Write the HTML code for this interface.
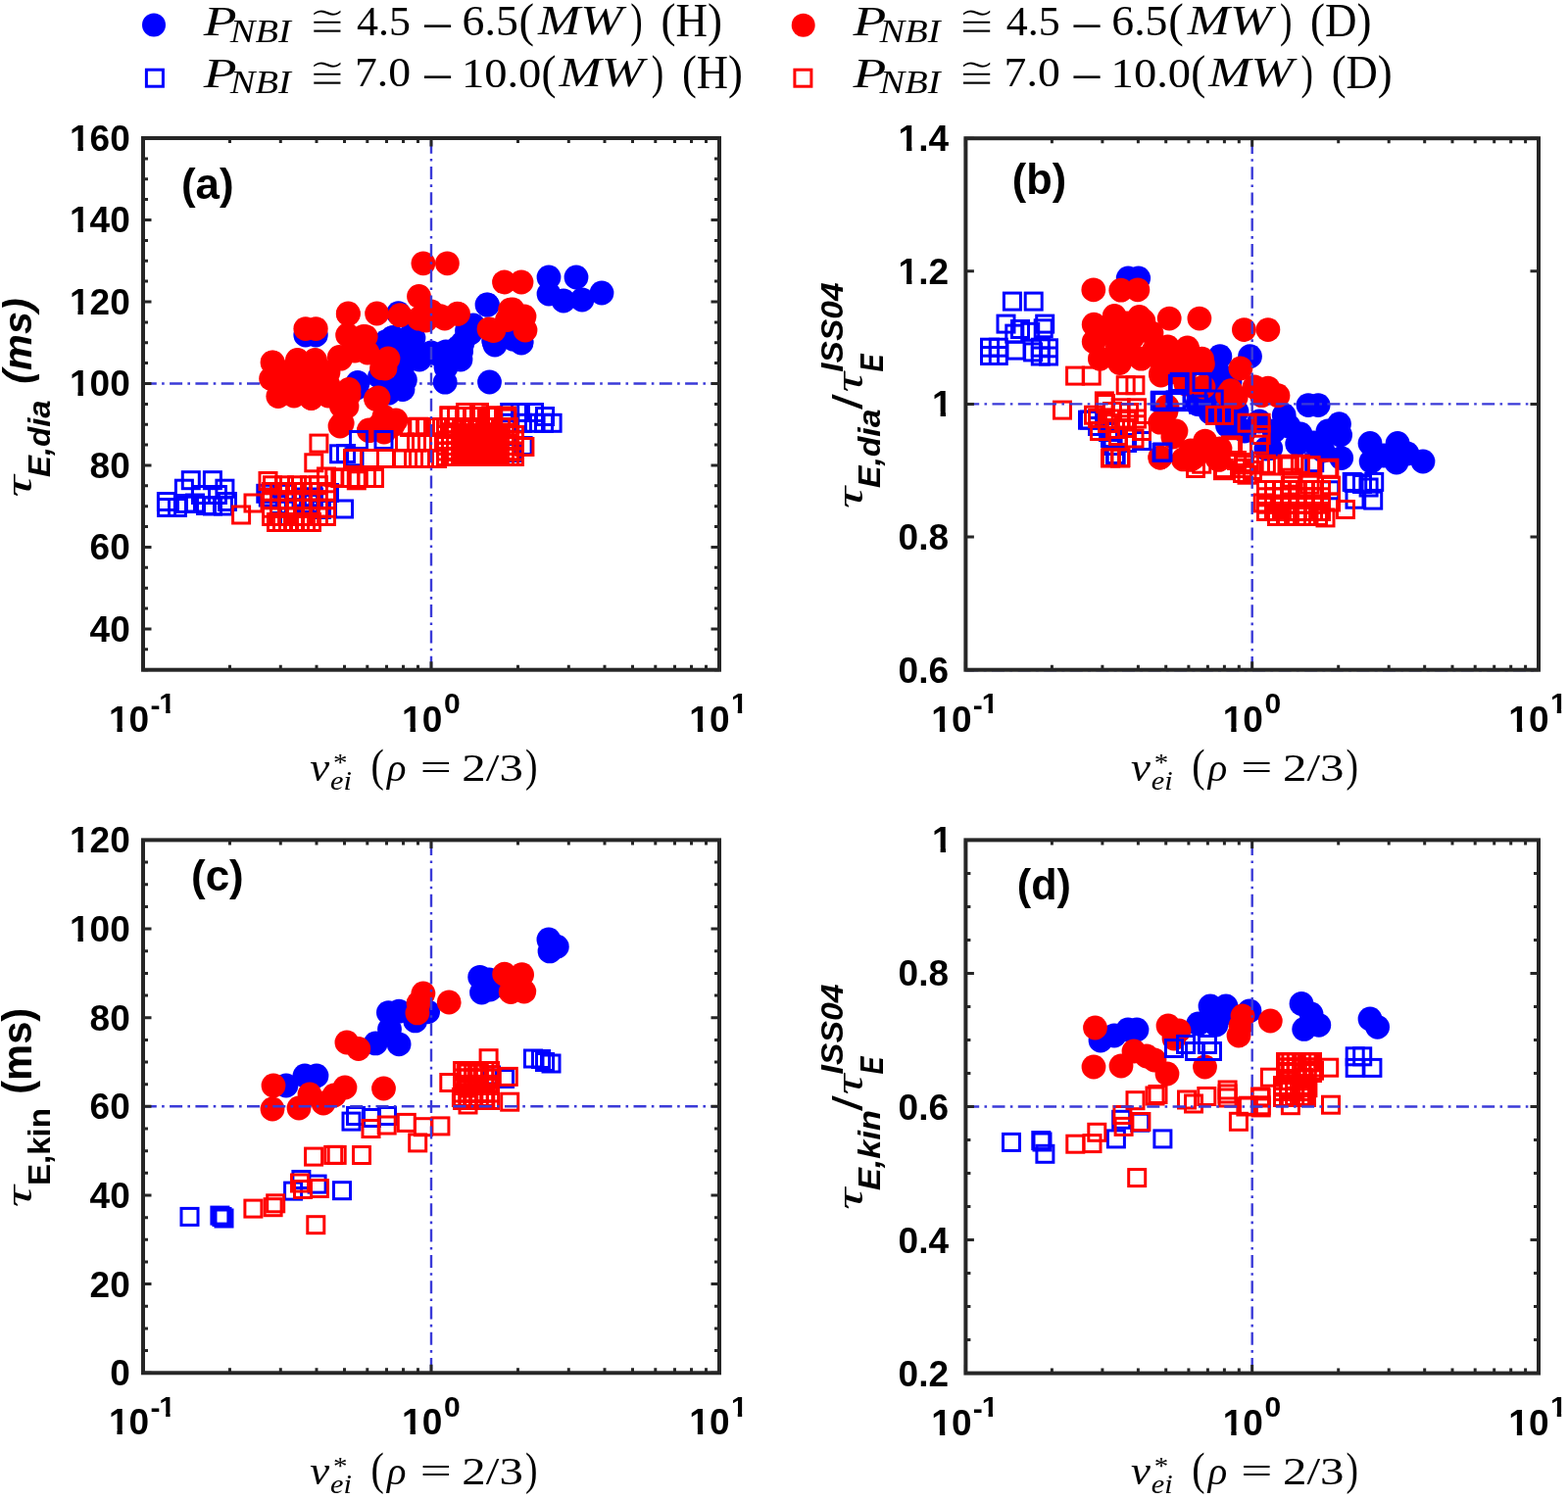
<!DOCTYPE html><html><head><meta charset="utf-8"><style>html,body{margin:0;padding:0;background:#fff;overflow:hidden}svg{display:block}</style></head><body><svg xmlns="http://www.w3.org/2000/svg" width="1600" height="1530" viewBox="0 0 1600 1530" style="font-kerning:none">
<rect width="1600" height="1530" fill="#fff"/>
<line x1="146.0" y1="391.5" x2="734.0" y2="391.5" stroke="#3a3ad8" stroke-width="2.4" stroke-dasharray="13 5.3 2.6 5.4" stroke-dashoffset="-0.8"/>
<g fill="#0000ff"><circle cx="311.8" cy="342.0" r="12.4"/><circle cx="322.3" cy="342.0" r="12.4"/><circle cx="364.0" cy="396.0" r="12.4"/><circle cx="396.5" cy="401.2" r="12.4"/><circle cx="393.9" cy="348.7" r="12.4"/><circle cx="406.5" cy="319.7" r="12.4"/><circle cx="441.5" cy="320.0" r="12.4"/><circle cx="401.2" cy="344.5" r="12.4"/><circle cx="418.7" cy="342.7" r="12.4"/><circle cx="476.5" cy="337.5" r="12.4"/><circle cx="454.2" cy="390.2" r="12.4"/><circle cx="499.5" cy="390.0" r="12.4"/><circle cx="470.0" cy="367.0" r="12.4"/><circle cx="467.0" cy="355.0" r="12.4"/><circle cx="448.0" cy="362.0" r="12.4"/><circle cx="428.0" cy="367.0" r="12.4"/><circle cx="410.0" cy="397.0" r="12.4"/><circle cx="400.0" cy="345.0" r="12.4"/><circle cx="422.0" cy="345.0" r="12.4"/><circle cx="504.0" cy="349.0" r="12.4"/><circle cx="532.0" cy="349.0" r="12.4"/><circle cx="480.0" cy="340.0" r="12.4"/><circle cx="411.0" cy="397.5" r="12.4"/><circle cx="365.0" cy="390.5" r="12.4"/><circle cx="387.5" cy="384.4" r="12.4"/><circle cx="398.0" cy="397.0" r="12.4"/><circle cx="413.4" cy="387.8" r="12.4"/><circle cx="455.0" cy="375.0" r="12.4"/><circle cx="412.0" cy="360.0" r="12.4"/><circle cx="418.0" cy="352.0" r="12.4"/><circle cx="412.0" cy="372.0" r="12.4"/><circle cx="560.0" cy="283.0" r="12.4"/><circle cx="588.0" cy="283.0" r="12.4"/><circle cx="560.0" cy="300.0" r="12.4"/><circle cx="575.0" cy="307.0" r="12.4"/><circle cx="594.0" cy="306.0" r="12.4"/><circle cx="614.0" cy="299.0" r="12.4"/><circle cx="497.0" cy="311.0" r="12.4"/><circle cx="483.0" cy="332.0" r="12.4"/><circle cx="505.0" cy="352.0" r="12.4"/><circle cx="532.0" cy="350.0" r="12.4"/><circle cx="472.0" cy="350.0" r="12.4"/><circle cx="497.5" cy="311.2" r="12.4"/><circle cx="480.0" cy="333.8" r="12.4"/><circle cx="503.8" cy="347.5" r="12.4"/><circle cx="523.8" cy="346.2" r="12.4"/><circle cx="455.0" cy="358.8" r="12.4"/><circle cx="470.6" cy="358.8" r="12.4"/><circle cx="440.0" cy="360.0" r="12.4"/></g>
<g fill="#ff0000"><circle cx="431.9" cy="268.8" r="12.4"/><circle cx="456.4" cy="268.8" r="12.4"/><circle cx="427.5" cy="302.5" r="12.4"/><circle cx="355.3" cy="320.0" r="12.4"/><circle cx="384.6" cy="320.0" r="12.4"/><circle cx="408.2" cy="321.7" r="12.4"/><circle cx="427.5" cy="325.2" r="12.4"/><circle cx="449.4" cy="322.6" r="12.4"/><circle cx="434.5" cy="327.0" r="12.4"/><circle cx="466.7" cy="320.2" r="12.4"/><circle cx="373.2" cy="343.6" r="12.4"/><circle cx="354.6" cy="342.0" r="12.4"/><circle cx="311.8" cy="335.6" r="12.4"/><circle cx="322.3" cy="335.6" r="12.4"/><circle cx="355.3" cy="320.6" r="12.4"/><circle cx="371.0" cy="343.5" r="12.4"/><circle cx="278.0" cy="369.8" r="12.4"/><circle cx="303.5" cy="367.5" r="12.4"/><circle cx="321.5" cy="367.5" r="12.4"/><circle cx="346.3" cy="364.5" r="12.4"/><circle cx="278.4" cy="370.2" r="12.4"/><circle cx="276.6" cy="386.4" r="12.4"/><circle cx="283.8" cy="404.6" r="12.4"/><circle cx="317.7" cy="406.5" r="12.4"/><circle cx="303.7" cy="368.2" r="12.4"/><circle cx="321.0" cy="369.0" r="12.4"/><circle cx="347.5" cy="366.2" r="12.4"/><circle cx="348.4" cy="414.4" r="12.4"/><circle cx="349.2" cy="431.9" r="12.4"/><circle cx="356.0" cy="403.0" r="12.4"/><circle cx="383.8" cy="407.4" r="12.4"/><circle cx="389.5" cy="375.7" r="12.4"/><circle cx="360.6" cy="348.7" r="12.4"/><circle cx="386.9" cy="434.5" r="12.4"/><circle cx="376.4" cy="438.9" r="12.4"/><circle cx="290.0" cy="380.0" r="12.4"/><circle cx="305.0" cy="380.0" r="12.4"/><circle cx="320.0" cy="380.0" r="12.4"/><circle cx="335.0" cy="380.0" r="12.4"/><circle cx="290.0" cy="393.0" r="12.4"/><circle cx="305.0" cy="393.0" r="12.4"/><circle cx="320.0" cy="393.0" r="12.4"/><circle cx="335.0" cy="393.0" r="12.4"/><circle cx="300.0" cy="404.0" r="12.4"/><circle cx="335.0" cy="404.0" r="12.4"/><circle cx="375.0" cy="360.0" r="12.4"/><circle cx="362.0" cy="358.0" r="12.4"/><circle cx="396.0" cy="366.0" r="12.4"/><circle cx="393.0" cy="376.0" r="12.4"/><circle cx="386.0" cy="406.0" r="12.4"/><circle cx="383.6" cy="407.1" r="12.4"/><circle cx="347.0" cy="435.0" r="12.4"/><circle cx="354.0" cy="415.0" r="12.4"/><circle cx="404.0" cy="429.0" r="12.4"/><circle cx="376.7" cy="439.7" r="12.4"/><circle cx="391.9" cy="425.5" r="12.4"/><circle cx="391.9" cy="441.0" r="12.4"/><circle cx="317.5" cy="406.2" r="12.4"/><circle cx="356.0" cy="397.5" r="12.4"/><circle cx="401.0" cy="433.8" r="12.4"/><circle cx="514.5" cy="288.0" r="12.4"/><circle cx="532.0" cy="288.0" r="12.4"/><circle cx="523.0" cy="316.0" r="12.4"/><circle cx="535.0" cy="323.0" r="12.4"/><circle cx="503.0" cy="337.0" r="12.4"/><circle cx="536.0" cy="337.0" r="12.4"/><circle cx="519.0" cy="325.0" r="12.4"/><circle cx="517.5" cy="326.6" r="12.4"/><circle cx="499.0" cy="335.8" r="12.4"/><circle cx="467.5" cy="320.3" r="12.4"/><circle cx="503.8" cy="337.5" r="12.4"/><circle cx="520.6" cy="316.2" r="12.4"/><circle cx="453.8" cy="325.0" r="12.4"/><circle cx="440.0" cy="318.0" r="12.4"/></g>
<g fill="none" stroke="#0000ff" stroke-width="3.0"><rect x="186.3" y="481.7" width="17.0" height="17.0"/><rect x="208.4" y="481.7" width="17.0" height="17.0"/><rect x="179.4" y="490.2" width="17.0" height="17.0"/><rect x="220.9" y="490.2" width="17.0" height="17.0"/><rect x="161.4" y="503.5" width="17.0" height="17.0"/><rect x="172.5" y="509.5" width="17.0" height="17.0"/><rect x="161.5" y="509.5" width="17.0" height="17.0"/><rect x="181.5" y="505.5" width="17.0" height="17.0"/><rect x="190.5" y="505.0" width="17.0" height="17.0"/><rect x="201.5" y="507.5" width="17.0" height="17.0"/><rect x="208.5" y="508.0" width="17.0" height="17.0"/><rect x="219.5" y="508.0" width="17.0" height="17.0"/><rect x="223.5" y="503.5" width="17.0" height="17.0"/><rect x="196.5" y="496.5" width="17.0" height="17.0"/><rect x="213.5" y="496.5" width="17.0" height="17.0"/><rect x="262.8" y="495.3" width="17.0" height="17.0"/><rect x="265.3" y="499.0" width="17.0" height="17.0"/><rect x="282.5" y="495.3" width="17.0" height="17.0"/><rect x="299.0" y="499.0" width="17.0" height="17.0"/><rect x="311.5" y="499.0" width="17.0" height="17.0"/><rect x="327.5" y="494.5" width="17.0" height="17.0"/><rect x="342.5" y="511.0" width="17.0" height="17.0"/><rect x="276.5" y="506.5" width="17.0" height="17.0"/><rect x="291.5" y="509.5" width="17.0" height="17.0"/><rect x="306.5" y="505.5" width="17.0" height="17.0"/><rect x="319.5" y="511.5" width="17.0" height="17.0"/><rect x="286.5" y="518.5" width="17.0" height="17.0"/><rect x="337.6" y="454.8" width="17.0" height="17.0"/><rect x="353.0" y="457.8" width="17.0" height="17.0"/><rect x="344.5" y="454.5" width="17.0" height="17.0"/><rect x="357.5" y="440.5" width="17.0" height="17.0"/><rect x="383.0" y="440.5" width="17.0" height="17.0"/><rect x="511.7" y="412.5" width="17.0" height="17.0"/><rect x="522.5" y="412.5" width="17.0" height="17.0"/><rect x="536.5" y="412.5" width="17.0" height="17.0"/><rect x="511.7" y="423.3" width="17.0" height="17.0"/><rect x="524.5" y="423.3" width="17.0" height="17.0"/><rect x="536.5" y="423.3" width="17.0" height="17.0"/><rect x="546.5" y="423.3" width="17.0" height="17.0"/><rect x="555.1" y="423.3" width="17.0" height="17.0"/><rect x="547.5" y="416.5" width="17.0" height="17.0"/><rect x="461.5" y="453.5" width="17.0" height="17.0"/><rect x="481.5" y="453.5" width="17.0" height="17.0"/><rect x="501.5" y="453.5" width="17.0" height="17.0"/><rect x="513.5" y="453.5" width="17.0" height="17.0"/><rect x="525.1" y="446.5" width="17.0" height="17.0"/></g>
<g fill="none" stroke="#ff0000" stroke-width="3.0"><rect x="237.6" y="517.0" width="17.0" height="17.0"/><rect x="250.0" y="505.0" width="17.0" height="17.0"/><rect x="265.0" y="482.5" width="17.0" height="17.0"/><rect x="316.9" y="444.1" width="17.0" height="17.0"/><rect x="311.8" y="463.8" width="17.0" height="17.0"/><rect x="332.8" y="478.8" width="17.0" height="17.0"/><rect x="355.3" y="481.8" width="17.0" height="17.0"/><rect x="324.5" y="478.0" width="17.0" height="17.0"/><rect x="338.9" y="479.5" width="17.0" height="17.0"/><rect x="349.0" y="479.5" width="17.0" height="17.0"/><rect x="357.3" y="479.5" width="17.0" height="17.0"/><rect x="365.5" y="479.5" width="17.0" height="17.0"/><rect x="373.5" y="479.5" width="17.0" height="17.0"/><rect x="418.8" y="427.2" width="17.0" height="17.0"/><rect x="449.9" y="415.7" width="17.0" height="17.0"/><rect x="466.5" y="412.5" width="17.0" height="17.0"/><rect x="480.5" y="412.5" width="17.0" height="17.0"/><rect x="492.7" y="415.7" width="17.0" height="17.0"/><rect x="508.5" y="416.0" width="17.0" height="17.0"/><rect x="526.9" y="447.5" width="17.0" height="17.0"/><rect x="269.5" y="486.8" width="17.0" height="17.0"/><rect x="281.5" y="486.8" width="17.0" height="17.0"/><rect x="294.5" y="486.8" width="17.0" height="17.0"/><rect x="307.5" y="486.8" width="17.0" height="17.0"/><rect x="316.5" y="486.8" width="17.0" height="17.0"/><rect x="268.5" y="493.5" width="17.0" height="17.0"/><rect x="268.5" y="501.8" width="17.0" height="17.0"/><rect x="268.5" y="510.2" width="17.0" height="17.0"/><rect x="268.5" y="518.5" width="17.0" height="17.0"/><rect x="276.5" y="493.5" width="17.0" height="17.0"/><rect x="276.5" y="501.8" width="17.0" height="17.0"/><rect x="276.5" y="510.2" width="17.0" height="17.0"/><rect x="276.5" y="518.5" width="17.0" height="17.0"/><rect x="284.5" y="493.5" width="17.0" height="17.0"/><rect x="284.5" y="501.8" width="17.0" height="17.0"/><rect x="284.5" y="510.2" width="17.0" height="17.0"/><rect x="284.5" y="518.5" width="17.0" height="17.0"/><rect x="292.5" y="493.5" width="17.0" height="17.0"/><rect x="292.5" y="501.8" width="17.0" height="17.0"/><rect x="292.5" y="510.2" width="17.0" height="17.0"/><rect x="292.5" y="518.5" width="17.0" height="17.0"/><rect x="300.5" y="493.5" width="17.0" height="17.0"/><rect x="300.5" y="501.8" width="17.0" height="17.0"/><rect x="300.5" y="510.2" width="17.0" height="17.0"/><rect x="300.5" y="518.5" width="17.0" height="17.0"/><rect x="308.5" y="493.5" width="17.0" height="17.0"/><rect x="308.5" y="501.8" width="17.0" height="17.0"/><rect x="308.5" y="510.2" width="17.0" height="17.0"/><rect x="308.5" y="518.5" width="17.0" height="17.0"/><rect x="316.5" y="493.5" width="17.0" height="17.0"/><rect x="316.5" y="501.8" width="17.0" height="17.0"/><rect x="316.5" y="510.2" width="17.0" height="17.0"/><rect x="316.5" y="518.5" width="17.0" height="17.0"/><rect x="324.5" y="493.5" width="17.0" height="17.0"/><rect x="324.5" y="501.8" width="17.0" height="17.0"/><rect x="324.5" y="510.2" width="17.0" height="17.0"/><rect x="324.5" y="518.5" width="17.0" height="17.0"/><rect x="273.5" y="524.5" width="17.0" height="17.0"/><rect x="279.5" y="524.5" width="17.0" height="17.0"/><rect x="285.5" y="524.5" width="17.0" height="17.0"/><rect x="291.5" y="524.5" width="17.0" height="17.0"/><rect x="297.5" y="524.5" width="17.0" height="17.0"/><rect x="303.5" y="524.5" width="17.0" height="17.0"/><rect x="309.5" y="524.5" width="17.0" height="17.0"/><rect x="450.1" y="416.5" width="17.0" height="17.0"/><rect x="457.5" y="416.5" width="17.0" height="17.0"/><rect x="465.5" y="416.5" width="17.0" height="17.0"/><rect x="473.5" y="416.5" width="17.0" height="17.0"/><rect x="481.5" y="416.5" width="17.0" height="17.0"/><rect x="488.5" y="416.5" width="17.0" height="17.0"/><rect x="494.5" y="416.5" width="17.0" height="17.0"/><rect x="509.0" y="418.1" width="17.0" height="17.0"/><rect x="409.5" y="427.5" width="17.0" height="17.0"/><rect x="417.5" y="427.5" width="17.0" height="17.0"/><rect x="425.5" y="427.5" width="17.0" height="17.0"/><rect x="433.5" y="427.5" width="17.0" height="17.0"/><rect x="438.5" y="427.5" width="17.0" height="17.0"/><rect x="446.5" y="427.5" width="17.0" height="17.0"/><rect x="454.5" y="427.5" width="17.0" height="17.0"/><rect x="462.5" y="427.5" width="17.0" height="17.0"/><rect x="470.5" y="427.5" width="17.0" height="17.0"/><rect x="478.5" y="427.5" width="17.0" height="17.0"/><rect x="486.5" y="427.5" width="17.0" height="17.0"/><rect x="494.5" y="427.5" width="17.0" height="17.0"/><rect x="502.5" y="427.5" width="17.0" height="17.0"/><rect x="510.5" y="427.5" width="17.0" height="17.0"/><rect x="446.5" y="435.5" width="17.0" height="17.0"/><rect x="446.5" y="441.0" width="17.0" height="17.0"/><rect x="446.5" y="446.5" width="17.0" height="17.0"/><rect x="446.5" y="452.0" width="17.0" height="17.0"/><rect x="446.5" y="457.5" width="17.0" height="17.0"/><rect x="451.5" y="435.5" width="17.0" height="17.0"/><rect x="451.5" y="441.0" width="17.0" height="17.0"/><rect x="451.5" y="446.5" width="17.0" height="17.0"/><rect x="451.5" y="452.0" width="17.0" height="17.0"/><rect x="451.5" y="457.5" width="17.0" height="17.0"/><rect x="456.5" y="435.5" width="17.0" height="17.0"/><rect x="456.5" y="441.0" width="17.0" height="17.0"/><rect x="456.5" y="446.5" width="17.0" height="17.0"/><rect x="456.5" y="452.0" width="17.0" height="17.0"/><rect x="456.5" y="457.5" width="17.0" height="17.0"/><rect x="461.5" y="435.5" width="17.0" height="17.0"/><rect x="461.5" y="441.0" width="17.0" height="17.0"/><rect x="461.5" y="446.5" width="17.0" height="17.0"/><rect x="461.5" y="452.0" width="17.0" height="17.0"/><rect x="461.5" y="457.5" width="17.0" height="17.0"/><rect x="466.5" y="435.5" width="17.0" height="17.0"/><rect x="466.5" y="441.0" width="17.0" height="17.0"/><rect x="466.5" y="446.5" width="17.0" height="17.0"/><rect x="466.5" y="452.0" width="17.0" height="17.0"/><rect x="466.5" y="457.5" width="17.0" height="17.0"/><rect x="471.5" y="435.5" width="17.0" height="17.0"/><rect x="471.5" y="441.0" width="17.0" height="17.0"/><rect x="471.5" y="446.5" width="17.0" height="17.0"/><rect x="471.5" y="452.0" width="17.0" height="17.0"/><rect x="471.5" y="457.5" width="17.0" height="17.0"/><rect x="476.5" y="435.5" width="17.0" height="17.0"/><rect x="476.5" y="441.0" width="17.0" height="17.0"/><rect x="476.5" y="446.5" width="17.0" height="17.0"/><rect x="476.5" y="452.0" width="17.0" height="17.0"/><rect x="476.5" y="457.5" width="17.0" height="17.0"/><rect x="481.5" y="435.5" width="17.0" height="17.0"/><rect x="481.5" y="441.0" width="17.0" height="17.0"/><rect x="481.5" y="446.5" width="17.0" height="17.0"/><rect x="481.5" y="452.0" width="17.0" height="17.0"/><rect x="481.5" y="457.5" width="17.0" height="17.0"/><rect x="486.5" y="435.5" width="17.0" height="17.0"/><rect x="486.5" y="441.0" width="17.0" height="17.0"/><rect x="486.5" y="446.5" width="17.0" height="17.0"/><rect x="486.5" y="452.0" width="17.0" height="17.0"/><rect x="486.5" y="457.5" width="17.0" height="17.0"/><rect x="491.5" y="435.5" width="17.0" height="17.0"/><rect x="491.5" y="441.0" width="17.0" height="17.0"/><rect x="491.5" y="446.5" width="17.0" height="17.0"/><rect x="491.5" y="452.0" width="17.0" height="17.0"/><rect x="491.5" y="457.5" width="17.0" height="17.0"/><rect x="496.5" y="435.5" width="17.0" height="17.0"/><rect x="496.5" y="441.0" width="17.0" height="17.0"/><rect x="496.5" y="446.5" width="17.0" height="17.0"/><rect x="496.5" y="452.0" width="17.0" height="17.0"/><rect x="496.5" y="457.5" width="17.0" height="17.0"/><rect x="501.5" y="435.5" width="17.0" height="17.0"/><rect x="501.5" y="441.0" width="17.0" height="17.0"/><rect x="501.5" y="446.5" width="17.0" height="17.0"/><rect x="501.5" y="452.0" width="17.0" height="17.0"/><rect x="501.5" y="457.5" width="17.0" height="17.0"/><rect x="506.5" y="435.5" width="17.0" height="17.0"/><rect x="506.5" y="441.0" width="17.0" height="17.0"/><rect x="506.5" y="446.5" width="17.0" height="17.0"/><rect x="506.5" y="452.0" width="17.0" height="17.0"/><rect x="506.5" y="457.5" width="17.0" height="17.0"/><rect x="511.5" y="435.5" width="17.0" height="17.0"/><rect x="511.5" y="441.0" width="17.0" height="17.0"/><rect x="511.5" y="446.5" width="17.0" height="17.0"/><rect x="511.5" y="452.0" width="17.0" height="17.0"/><rect x="511.5" y="457.5" width="17.0" height="17.0"/><rect x="516.5" y="435.5" width="17.0" height="17.0"/><rect x="516.5" y="441.0" width="17.0" height="17.0"/><rect x="516.5" y="446.5" width="17.0" height="17.0"/><rect x="516.5" y="452.0" width="17.0" height="17.0"/><rect x="516.5" y="457.5" width="17.0" height="17.0"/><rect x="404.5" y="443.0" width="17.0" height="17.0"/><rect x="416.5" y="443.0" width="17.0" height="17.0"/><rect x="427.5" y="443.0" width="17.0" height="17.0"/><rect x="439.5" y="443.0" width="17.0" height="17.0"/><rect x="351.5" y="459.5" width="17.0" height="17.0"/><rect x="368.5" y="459.5" width="17.0" height="17.0"/><rect x="385.5" y="459.5" width="17.0" height="17.0"/><rect x="401.5" y="459.5" width="17.0" height="17.0"/><rect x="413.5" y="459.5" width="17.0" height="17.0"/><rect x="424.5" y="459.5" width="17.0" height="17.0"/><rect x="437.5" y="459.5" width="17.0" height="17.0"/></g>
<line x1="440.0" y1="141.0" x2="440.0" y2="683.7" stroke="#3a3ad8" stroke-width="2.4" stroke-dasharray="13 5.3 2.6 5.4" stroke-dashoffset="23.6"/>
<path d="M146.0 642.0h8.5M734.0 642.0h-8.5M146.0 558.5h8.5M734.0 558.5h-8.5M146.0 475.0h8.5M734.0 475.0h-8.5M146.0 391.5h8.5M734.0 391.5h-8.5M146.0 308.0h8.5M734.0 308.0h-8.5M146.0 224.5h8.5M734.0 224.5h-8.5M146.0 141.0h8.5M734.0 141.0h-8.5M146.0 683.7h5.0M734.0 683.7h-5.0M146.0 662.8h5.0M734.0 662.8h-5.0M146.0 621.1h5.0M734.0 621.1h-5.0M146.0 600.2h5.0M734.0 600.2h-5.0M146.0 579.3h5.0M734.0 579.3h-5.0M146.0 537.6h5.0M734.0 537.6h-5.0M146.0 516.7h5.0M734.0 516.7h-5.0M146.0 495.8h5.0M734.0 495.8h-5.0M146.0 454.1h5.0M734.0 454.1h-5.0M146.0 433.2h5.0M734.0 433.2h-5.0M146.0 412.4h5.0M734.0 412.4h-5.0M146.0 370.6h5.0M734.0 370.6h-5.0M146.0 349.7h5.0M734.0 349.7h-5.0M146.0 328.9h5.0M734.0 328.9h-5.0M146.0 287.1h5.0M734.0 287.1h-5.0M146.0 266.2h5.0M734.0 266.2h-5.0M146.0 245.4h5.0M734.0 245.4h-5.0M146.0 203.6h5.0M734.0 203.6h-5.0M146.0 182.7h5.0M734.0 182.7h-5.0M146.0 161.9h5.0M734.0 161.9h-5.0M146.0 683.7v-8.5M146.0 141.0v8.5M440.0 683.7v-8.5M440.0 141.0v8.5M734.0 683.7v-8.5M734.0 141.0v8.5M234.5 683.7v-5.0M234.5 141.0v5.0M286.3 683.7v-5.0M286.3 141.0v5.0M323.0 683.7v-5.0M323.0 141.0v5.0M351.5 683.7v-5.0M351.5 141.0v5.0M374.8 683.7v-5.0M374.8 141.0v5.0M394.5 683.7v-5.0M394.5 141.0v5.0M411.5 683.7v-5.0M411.5 141.0v5.0M426.5 683.7v-5.0M426.5 141.0v5.0M528.5 683.7v-5.0M528.5 141.0v5.0M580.3 683.7v-5.0M580.3 141.0v5.0M617.0 683.7v-5.0M617.0 141.0v5.0M645.5 683.7v-5.0M645.5 141.0v5.0M668.8 683.7v-5.0M668.8 141.0v5.0M688.5 683.7v-5.0M688.5 141.0v5.0M705.5 683.7v-5.0M705.5 141.0v5.0M720.5 683.7v-5.0M720.5 141.0v5.0" stroke="#262626" stroke-width="3" fill="none"/>
<rect x="146.0" y="141.0" width="588.0" height="542.7" fill="none" stroke="#262626" stroke-width="4"/>
<text x="132.72" y="654.95" text-anchor="end" style="font-family:'Liberation Sans',sans-serif;font-weight:bold;font-size:37px">40</text>
<text x="132.72" y="571.46" text-anchor="end" style="font-family:'Liberation Sans',sans-serif;font-weight:bold;font-size:37px">60</text>
<text x="132.72" y="487.97" text-anchor="end" style="font-family:'Liberation Sans',sans-serif;font-weight:bold;font-size:37px">80</text>
<text x="132.72" y="404.48" text-anchor="end" style="font-family:'Liberation Sans',sans-serif;font-weight:bold;font-size:37px">100</text>
<text x="132.72" y="320.98" text-anchor="end" style="font-family:'Liberation Sans',sans-serif;font-weight:bold;font-size:37px">120</text>
<text x="132.72" y="237.49" text-anchor="end" style="font-family:'Liberation Sans',sans-serif;font-weight:bold;font-size:37px">140</text>
<text x="132.72" y="154.00" text-anchor="end" style="font-family:'Liberation Sans',sans-serif;font-weight:bold;font-size:37px">160</text>
<text x="110.97" y="746.60" style="font-family:'Liberation Sans',sans-serif;font-weight:bold;font-size:37px">10</text>
<text x="153.44" y="729.80" style="font-family:'Liberation Sans',sans-serif;font-weight:bold;font-size:30px">-</text>
<text x="162.32" y="728.00" style="font-family:'Liberation Sans',sans-serif;font-weight:bold;font-size:30px">1</text>
<text x="410.07" y="746.60" style="font-family:'Liberation Sans',sans-serif;font-weight:bold;font-size:37px">10</text>
<text x="452.92" y="728.00" style="font-family:'Liberation Sans',sans-serif;font-weight:bold;font-size:30px">0</text>
<text x="703.37" y="746.60" style="font-family:'Liberation Sans',sans-serif;font-weight:bold;font-size:37px">10</text>
<text x="745.92" y="728.00" style="font-family:'Liberation Sans',sans-serif;font-weight:bold;font-size:30px">1</text>
<text transform="translate(316.19,797.00) scale(1.1216,1.0000)" style="font-family:'Liberation Serif',serif;font-style:italic;font-size:40px" fill="#000">ν</text>
<text transform="translate(340.08,786.96) scale(1.0360,0.9252)" style="font-family:'Liberation Serif',serif;font-size:28px" fill="#000">*</text>
<text transform="translate(336.96,806.24) scale(1.0866,0.9568)" style="font-family:'Liberation Serif',serif;font-style:italic;font-size:28px" fill="#000">ei</text>
<text transform="translate(378.44,797.13) scale(1.0026,1.1828)" style="font-family:'Liberation Serif',serif;font-size:40px" fill="#000">(</text>
<text transform="translate(395.03,797.00) scale(1.0156,1.0000)" style="font-family:'Liberation Serif',serif;font-style:italic;font-size:40px" fill="#000">ρ</text>
<text transform="translate(428.66,797.00) scale(1.4237,1.0000)" style="font-family:'Liberation Serif',serif;font-size:40px" fill="#000">=</text>
<text transform="translate(471.35,797.00) scale(1.2240,1.0000)" style="font-family:'Liberation Serif',serif;font-size:40px" fill="#000">2/3</text>
<text transform="translate(535.90,797.13) scale(0.9344,1.1828)" style="font-family:'Liberation Serif',serif;font-size:40px" fill="#000">)</text>
<g fill="#0000ff"><circle cx="1151.2" cy="284.0" r="12.4"/><circle cx="1161.7" cy="284.0" r="12.4"/><circle cx="1167.0" cy="331.2" r="12.4"/><circle cx="1244.9" cy="363.7" r="12.4"/><circle cx="1275.5" cy="363.7" r="12.4"/><circle cx="1244.0" cy="381.2" r="12.4"/><circle cx="1255.0" cy="390.0" r="12.4"/><circle cx="1235.0" cy="421.0" r="12.4"/><circle cx="1252.5" cy="434.4" r="12.4"/><circle cx="1222.0" cy="412.5" r="12.4"/><circle cx="1240.0" cy="405.0" r="12.4"/><circle cx="1262.0" cy="420.0" r="12.4"/><circle cx="1270.0" cy="440.0" r="12.4"/><circle cx="1285.0" cy="430.0" r="12.4"/><circle cx="1291.9" cy="458.0" r="12.4"/><circle cx="1296.7" cy="457.5" r="12.4"/><circle cx="1335.0" cy="413.6" r="12.4"/><circle cx="1345.1" cy="413.6" r="12.4"/><circle cx="1366.5" cy="432.7" r="12.4"/><circle cx="1367.6" cy="444.0" r="12.4"/><circle cx="1368.7" cy="467.6" r="12.4"/><circle cx="1310.2" cy="423.7" r="12.4"/><circle cx="1327.0" cy="442.9" r="12.4"/><circle cx="1340.6" cy="451.9" r="12.4"/><circle cx="1323.7" cy="453.0" r="12.4"/><circle cx="1355.0" cy="440.0" r="12.4"/><circle cx="1350.0" cy="460.0" r="12.4"/><circle cx="1300.0" cy="440.0" r="12.4"/><circle cx="1315.0" cy="435.0" r="12.4"/><circle cx="1398.0" cy="452.4" r="12.4"/><circle cx="1426.1" cy="452.4" r="12.4"/><circle cx="1399.1" cy="471.0" r="12.4"/><circle cx="1425.0" cy="472.0" r="12.4"/><circle cx="1452.0" cy="471.0" r="12.4"/><circle cx="1436.0" cy="463.0" r="12.4"/><circle cx="1412.0" cy="465.0" r="12.4"/></g>
<g fill="#ff0000"><circle cx="1115.8" cy="295.8" r="12.4"/><circle cx="1143.8" cy="296.2" r="12.4"/><circle cx="1160.9" cy="295.8" r="12.4"/><circle cx="1137.2" cy="322.5" r="12.4"/><circle cx="1162.6" cy="323.4" r="12.4"/><circle cx="1193.2" cy="325.1" r="12.4"/><circle cx="1223.9" cy="325.1" r="12.4"/><circle cx="1116.2" cy="331.2" r="12.4"/><circle cx="1166.8" cy="327.5" r="12.4"/><circle cx="1191.5" cy="354.0" r="12.4"/><circle cx="1211.6" cy="354.9" r="12.4"/><circle cx="1226.5" cy="366.2" r="12.4"/><circle cx="1122.4" cy="366.2" r="12.4"/><circle cx="1142.5" cy="370.6" r="12.4"/><circle cx="1164.4" cy="366.2" r="12.4"/><circle cx="1177.5" cy="357.5" r="12.4"/><circle cx="1186.0" cy="370.6" r="12.4"/><circle cx="1116.2" cy="348.7" r="12.4"/><circle cx="1138.0" cy="344.4" r="12.4"/><circle cx="1155.6" cy="344.4" r="12.4"/><circle cx="1130.0" cy="340.0" r="12.4"/><circle cx="1150.0" cy="330.0" r="12.4"/><circle cx="1175.0" cy="340.0" r="12.4"/><circle cx="1200.0" cy="365.0" r="12.4"/><circle cx="1140.0" cy="356.0" r="12.4"/><circle cx="1150.0" cy="362.0" r="12.4"/><circle cx="1210.0" cy="392.0" r="12.4"/><circle cx="1228.0" cy="395.0" r="12.4"/><circle cx="1269.4" cy="336.6" r="12.4"/><circle cx="1293.9" cy="336.6" r="12.4"/><circle cx="1227.4" cy="371.6" r="12.4"/><circle cx="1184.5" cy="381.2" r="12.4"/><circle cx="1265.9" cy="376.0" r="12.4"/><circle cx="1256.0" cy="398.7" r="12.4"/><circle cx="1293.9" cy="396.1" r="12.4"/><circle cx="1280.0" cy="395.0" r="12.4"/><circle cx="1184.6" cy="383.1" r="12.4"/><circle cx="1195.0" cy="380.0" r="12.4"/><circle cx="1210.0" cy="378.0" r="12.4"/><circle cx="1183.7" cy="467.1" r="12.4"/><circle cx="1207.4" cy="468.9" r="12.4"/><circle cx="1183.7" cy="431.2" r="12.4"/><circle cx="1196.9" cy="446.1" r="12.4"/><circle cx="1190.0" cy="420.0" r="12.4"/><circle cx="1200.0" cy="440.0" r="12.4"/><circle cx="1261.2" cy="405.5" r="12.4"/><circle cx="1287.5" cy="403.7" r="12.4"/><circle cx="1304.0" cy="403.7" r="12.4"/><circle cx="1252.5" cy="403.7" r="12.4"/><circle cx="1229.7" cy="450.1" r="12.4"/><circle cx="1214.4" cy="469.4" r="12.4"/><circle cx="1243.7" cy="469.4" r="12.4"/><circle cx="1215.0" cy="460.0" r="12.4"/><circle cx="1184.0" cy="467.0" r="12.4"/><circle cx="1214.5" cy="468.0" r="12.4"/><circle cx="1230.0" cy="455.0" r="12.4"/><circle cx="1245.0" cy="458.0" r="12.4"/><circle cx="1217.5" cy="467.5" r="12.4"/><circle cx="1234.7" cy="457.0" r="12.4"/><circle cx="1241.6" cy="467.5" r="12.4"/><circle cx="1213.4" cy="467.0" r="12.4"/><circle cx="1191.0" cy="415.0" r="12.4"/></g>
<g fill="none" stroke="#0000ff" stroke-width="3.0"><rect x="1024.4" y="299.1" width="17.0" height="17.0"/><rect x="1046.2" y="299.1" width="17.0" height="17.0"/><rect x="1018.0" y="322.1" width="17.0" height="17.0"/><rect x="1057.7" y="322.1" width="17.0" height="17.0"/><rect x="1056.2" y="326.8" width="17.0" height="17.0"/><rect x="1026.8" y="332.1" width="17.0" height="17.0"/><rect x="1032.5" y="327.5" width="17.0" height="17.0"/><rect x="1042.7" y="330.3" width="17.0" height="17.0"/><rect x="1001.5" y="346.2" width="17.0" height="17.0"/><rect x="1010.3" y="346.2" width="17.0" height="17.0"/><rect x="1001.5" y="354.5" width="17.0" height="17.0"/><rect x="1010.3" y="354.5" width="17.0" height="17.0"/><rect x="1028.0" y="349.1" width="17.0" height="17.0"/><rect x="1045.6" y="350.9" width="17.0" height="17.0"/><rect x="1053.3" y="346.2" width="17.0" height="17.0"/><rect x="1061.5" y="346.8" width="17.0" height="17.0"/><rect x="1061.5" y="355.0" width="17.0" height="17.0"/><rect x="1053.3" y="355.0" width="17.0" height="17.0"/><rect x="1195.2" y="381.5" width="17.0" height="17.0"/><rect x="1218.0" y="381.5" width="17.0" height="17.0"/><rect x="1177.7" y="401.6" width="17.0" height="17.0"/><rect x="1195.2" y="401.6" width="17.0" height="17.0"/><rect x="1214.5" y="404.2" width="17.0" height="17.0"/><rect x="1230.2" y="399.0" width="17.0" height="17.0"/><rect x="1103.5" y="420.1" width="17.0" height="17.0"/><rect x="1127.1" y="439.4" width="17.0" height="17.0"/><rect x="1177.0" y="453.4" width="17.0" height="17.0"/><rect x="1130.2" y="455.5" width="17.0" height="17.0"/><rect x="1175.2" y="400.9" width="17.0" height="17.0"/><rect x="1191.0" y="400.0" width="17.0" height="17.0"/><rect x="1193.5" y="383.4" width="17.0" height="17.0"/><rect x="1122.5" y="432.5" width="17.0" height="17.0"/><rect x="1178.0" y="453.0" width="17.0" height="17.0"/><rect x="1129.5" y="456.5" width="17.0" height="17.0"/><rect x="1101.5" y="420.2" width="17.0" height="17.0"/><rect x="1124.5" y="438.5" width="17.0" height="17.0"/><rect x="1126.5" y="446.5" width="17.0" height="17.0"/><rect x="1111.5" y="426.5" width="17.0" height="17.0"/><rect x="1141.5" y="443.5" width="17.0" height="17.0"/><rect x="1156.5" y="441.5" width="17.0" height="17.0"/><rect x="1175.5" y="400.2" width="17.0" height="17.0"/><rect x="1191.5" y="400.2" width="17.0" height="17.0"/><rect x="1332.7" y="463.7" width="17.0" height="17.0"/><rect x="1348.7" y="491.8" width="17.0" height="17.0"/><rect x="1373.1" y="484.3" width="17.0" height="17.0"/><rect x="1388.1" y="489.0" width="17.0" height="17.0"/><rect x="1374.0" y="501.2" width="17.0" height="17.0"/><rect x="1392.7" y="502.1" width="17.0" height="17.0"/><rect x="1371.2" y="483.4" width="17.0" height="17.0"/><rect x="1393.7" y="483.4" width="17.0" height="17.0"/><rect x="1381.5" y="485.5" width="17.0" height="17.0"/></g>
<g fill="none" stroke="#ff0000" stroke-width="3.0"><rect x="1088.6" y="375.1" width="17.0" height="17.0"/><rect x="1105.2" y="375.1" width="17.0" height="17.0"/><rect x="1075.5" y="410.1" width="17.0" height="17.0"/><rect x="1118.4" y="400.9" width="17.0" height="17.0"/><rect x="1140.2" y="384.7" width="17.0" height="17.0"/><rect x="1149.9" y="384.7" width="17.0" height="17.0"/><rect x="1125.4" y="458.6" width="17.0" height="17.0"/><rect x="1135.0" y="458.6" width="17.0" height="17.0"/><rect x="1124.5" y="459.0" width="17.0" height="17.0"/><rect x="1134.5" y="459.0" width="17.0" height="17.0"/><rect x="1240.5" y="415.4" width="17.0" height="17.0"/><rect x="1231.5" y="415.4" width="17.0" height="17.0"/><rect x="1264.1" y="423.2" width="17.0" height="17.0"/><rect x="1278.1" y="423.2" width="17.0" height="17.0"/><rect x="1278.1" y="435.5" width="17.0" height="17.0"/><rect x="1248.4" y="447.7" width="17.0" height="17.0"/><rect x="1261.5" y="463.5" width="17.0" height="17.0"/><rect x="1305.2" y="465.2" width="17.0" height="17.0"/><rect x="1318.4" y="465.2" width="17.0" height="17.0"/><rect x="1283.4" y="465.2" width="17.0" height="17.0"/><rect x="1259.7" y="469.6" width="17.0" height="17.0"/><rect x="1239.6" y="469.6" width="17.0" height="17.0"/><rect x="1217.7" y="465.2" width="17.0" height="17.0"/><rect x="1309.5" y="479.2" width="17.0" height="17.0"/><rect x="1307.4" y="467.0" width="17.0" height="17.0"/><rect x="1328.7" y="467.0" width="17.0" height="17.0"/><rect x="1347.9" y="469.2" width="17.0" height="17.0"/><rect x="1288.2" y="467.0" width="17.0" height="17.0"/><rect x="1305.5" y="466.5" width="17.0" height="17.0"/><rect x="1329.0" y="466.5" width="17.0" height="17.0"/><rect x="1346.8" y="470.2" width="17.0" height="17.0"/><rect x="1280.2" y="504.9" width="17.0" height="17.0"/><rect x="1328.1" y="486.2" width="17.0" height="17.0"/><rect x="1308.4" y="487.1" width="17.0" height="17.0"/><rect x="1344.0" y="519.9" width="17.0" height="17.0"/><rect x="1349.5" y="487.1" width="17.0" height="17.0"/><rect x="1349.5" y="504.0" width="17.0" height="17.0"/><rect x="1364.5" y="511.5" width="17.0" height="17.0"/><rect x="1303.5" y="518.5" width="17.0" height="17.0"/><rect x="1249.5" y="446.5" width="17.0" height="17.0"/><rect x="1240.5" y="471.5" width="17.0" height="17.0"/><rect x="1259.5" y="474.5" width="17.0" height="17.0"/><rect x="1211.5" y="469.5" width="17.0" height="17.0"/><rect x="1107.5" y="415.2" width="17.0" height="17.0"/><rect x="1135.2" y="407.8" width="17.0" height="17.0"/><rect x="1151.5" y="407.8" width="17.0" height="17.0"/><rect x="1135.2" y="419.0" width="17.0" height="17.0"/><rect x="1151.5" y="419.0" width="17.0" height="17.0"/><rect x="1132.5" y="436.5" width="17.0" height="17.0"/><rect x="1149.0" y="439.0" width="17.0" height="17.0"/><rect x="1141.5" y="428.5" width="17.0" height="17.0"/><rect x="1121.5" y="423.5" width="17.0" height="17.0"/><rect x="1113.5" y="431.5" width="17.0" height="17.0"/><rect x="1156.5" y="431.5" width="17.0" height="17.0"/><rect x="1143.5" y="412.5" width="17.0" height="17.0"/><rect x="1126.5" y="411.5" width="17.0" height="17.0"/><rect x="1119.5" y="403.5" width="17.0" height="17.0"/><rect x="1129.5" y="429.5" width="17.0" height="17.0"/><rect x="1141.5" y="420.5" width="17.0" height="17.0"/><rect x="1111.5" y="418.5" width="17.0" height="17.0"/><rect x="1283.5" y="491.5" width="17.0" height="17.0"/><rect x="1283.5" y="498.8" width="17.0" height="17.0"/><rect x="1283.5" y="506.2" width="17.0" height="17.0"/><rect x="1283.5" y="513.5" width="17.0" height="17.0"/><rect x="1291.5" y="491.5" width="17.0" height="17.0"/><rect x="1291.5" y="498.8" width="17.0" height="17.0"/><rect x="1291.5" y="506.2" width="17.0" height="17.0"/><rect x="1291.5" y="513.5" width="17.0" height="17.0"/><rect x="1299.5" y="491.5" width="17.0" height="17.0"/><rect x="1299.5" y="498.8" width="17.0" height="17.0"/><rect x="1299.5" y="506.2" width="17.0" height="17.0"/><rect x="1299.5" y="513.5" width="17.0" height="17.0"/><rect x="1307.5" y="491.5" width="17.0" height="17.0"/><rect x="1307.5" y="498.8" width="17.0" height="17.0"/><rect x="1307.5" y="506.2" width="17.0" height="17.0"/><rect x="1307.5" y="513.5" width="17.0" height="17.0"/><rect x="1315.5" y="491.5" width="17.0" height="17.0"/><rect x="1315.5" y="498.8" width="17.0" height="17.0"/><rect x="1315.5" y="506.2" width="17.0" height="17.0"/><rect x="1315.5" y="513.5" width="17.0" height="17.0"/><rect x="1323.5" y="491.5" width="17.0" height="17.0"/><rect x="1323.5" y="498.8" width="17.0" height="17.0"/><rect x="1323.5" y="506.2" width="17.0" height="17.0"/><rect x="1323.5" y="513.5" width="17.0" height="17.0"/><rect x="1331.5" y="491.5" width="17.0" height="17.0"/><rect x="1331.5" y="498.8" width="17.0" height="17.0"/><rect x="1331.5" y="506.2" width="17.0" height="17.0"/><rect x="1331.5" y="513.5" width="17.0" height="17.0"/><rect x="1339.5" y="491.5" width="17.0" height="17.0"/><rect x="1339.5" y="498.8" width="17.0" height="17.0"/><rect x="1339.5" y="506.2" width="17.0" height="17.0"/><rect x="1339.5" y="513.5" width="17.0" height="17.0"/><rect x="1294.5" y="518.5" width="17.0" height="17.0"/><rect x="1304.5" y="518.5" width="17.0" height="17.0"/><rect x="1314.5" y="518.5" width="17.0" height="17.0"/><rect x="1324.5" y="518.5" width="17.0" height="17.0"/><rect x="1336.5" y="518.5" width="17.0" height="17.0"/><rect x="1239.5" y="471.7" width="17.0" height="17.0"/><rect x="1247.5" y="445.9" width="17.0" height="17.0"/><rect x="1260.5" y="465.9" width="17.0" height="17.0"/><rect x="1264.0" y="476.2" width="17.0" height="17.0"/><rect x="1277.5" y="465.9" width="17.0" height="17.0"/><rect x="1276.5" y="445.2" width="17.0" height="17.0"/><rect x="1253.5" y="461.5" width="17.0" height="17.0"/><rect x="1269.5" y="471.5" width="17.0" height="17.0"/></g>
<line x1="985.4" y1="412.4" x2="1570.0" y2="412.4" stroke="#3a3ad8" stroke-width="2.4" stroke-dasharray="13 5.3 2.6 5.4" stroke-dashoffset="-0.8"/>
<line x1="1277.7" y1="141.2" x2="1277.7" y2="683.7" stroke="#3a3ad8" stroke-width="2.4" stroke-dasharray="13 5.3 2.6 5.4" stroke-dashoffset="23.6"/>
<line x1="985.4" y1="683.7" x2="1570.0" y2="683.7" stroke="#1010c0" stroke-width="3.2" stroke-dasharray="13 5.2 3 5.4"/>
<path d="M985.4 683.7h8.5M1570.0 683.7h-8.5M985.4 548.1h8.5M1570.0 548.1h-8.5M985.4 412.4h8.5M1570.0 412.4h-8.5M985.4 276.8h8.5M1570.0 276.8h-8.5M985.4 141.2h8.5M1570.0 141.2h-8.5M985.4 683.7v-8.5M985.4 141.2v8.5M1277.7 683.7v-8.5M1277.7 141.2v8.5M1570.0 683.7v-8.5M1570.0 141.2v8.5M1073.4 683.7v-5.0M1073.4 141.2v5.0M1124.9 683.7v-5.0M1124.9 141.2v5.0M1161.4 683.7v-5.0M1161.4 141.2v5.0M1189.7 683.7v-5.0M1189.7 141.2v5.0M1212.9 683.7v-5.0M1212.9 141.2v5.0M1232.4 683.7v-5.0M1232.4 141.2v5.0M1249.4 683.7v-5.0M1249.4 141.2v5.0M1264.3 683.7v-5.0M1264.3 141.2v5.0M1365.7 683.7v-5.0M1365.7 141.2v5.0M1417.2 683.7v-5.0M1417.2 141.2v5.0M1453.7 683.7v-5.0M1453.7 141.2v5.0M1482.0 683.7v-5.0M1482.0 141.2v5.0M1505.2 683.7v-5.0M1505.2 141.2v5.0M1524.7 683.7v-5.0M1524.7 141.2v5.0M1541.7 683.7v-5.0M1541.7 141.2v5.0M1556.6 683.7v-5.0M1556.6 141.2v5.0" stroke="#262626" stroke-width="3" fill="none"/>
<rect x="985.4" y="141.2" width="584.6" height="542.5" fill="none" stroke="#262626" stroke-width="4"/>
<text x="968.00" y="696.70" text-anchor="end" style="font-family:'Liberation Sans',sans-serif;font-weight:bold;font-size:37px">0.6</text>
<text x="968.00" y="561.08" text-anchor="end" style="font-family:'Liberation Sans',sans-serif;font-weight:bold;font-size:37px">0.8</text>
<text x="971.70" y="425.45" text-anchor="end" style="font-family:'Liberation Sans',sans-serif;font-weight:bold;font-size:37px">1</text>
<text x="968.00" y="289.83" text-anchor="end" style="font-family:'Liberation Sans',sans-serif;font-weight:bold;font-size:37px">1.2</text>
<text x="968.00" y="154.20" text-anchor="end" style="font-family:'Liberation Sans',sans-serif;font-weight:bold;font-size:37px">1.4</text>
<text x="950.37" y="746.60" style="font-family:'Liberation Sans',sans-serif;font-weight:bold;font-size:37px">10</text>
<text x="992.84" y="729.80" style="font-family:'Liberation Sans',sans-serif;font-weight:bold;font-size:30px">-</text>
<text x="1001.72" y="728.00" style="font-family:'Liberation Sans',sans-serif;font-weight:bold;font-size:30px">1</text>
<text x="1247.77" y="746.60" style="font-family:'Liberation Sans',sans-serif;font-weight:bold;font-size:37px">10</text>
<text x="1290.62" y="728.00" style="font-family:'Liberation Sans',sans-serif;font-weight:bold;font-size:30px">0</text>
<text x="1539.37" y="746.60" style="font-family:'Liberation Sans',sans-serif;font-weight:bold;font-size:37px">10</text>
<text x="1581.92" y="728.00" style="font-family:'Liberation Sans',sans-serif;font-weight:bold;font-size:30px">1</text>
<text transform="translate(1153.89,797.00) scale(1.1216,1.0000)" style="font-family:'Liberation Serif',serif;font-style:italic;font-size:40px" fill="#000">ν</text>
<text transform="translate(1177.78,786.96) scale(1.0360,0.9252)" style="font-family:'Liberation Serif',serif;font-size:28px" fill="#000">*</text>
<text transform="translate(1174.66,806.24) scale(1.0866,0.9568)" style="font-family:'Liberation Serif',serif;font-style:italic;font-size:28px" fill="#000">ei</text>
<text transform="translate(1216.14,797.13) scale(1.0026,1.1828)" style="font-family:'Liberation Serif',serif;font-size:40px" fill="#000">(</text>
<text transform="translate(1232.73,797.00) scale(1.0156,1.0000)" style="font-family:'Liberation Serif',serif;font-style:italic;font-size:40px" fill="#000">ρ</text>
<text transform="translate(1266.36,797.00) scale(1.4237,1.0000)" style="font-family:'Liberation Serif',serif;font-size:40px" fill="#000">=</text>
<text transform="translate(1309.05,797.00) scale(1.2240,1.0000)" style="font-family:'Liberation Serif',serif;font-size:40px" fill="#000">2/3</text>
<text transform="translate(1373.60,797.13) scale(0.9344,1.1828)" style="font-family:'Liberation Serif',serif;font-size:40px" fill="#000">)</text>
<g fill="#0000ff"><circle cx="292.0" cy="1108.0" r="12.4"/><circle cx="311.0" cy="1098.0" r="12.4"/><circle cx="323.0" cy="1098.0" r="12.4"/><circle cx="383.2" cy="1064.9" r="12.4"/><circle cx="407.1" cy="1065.8" r="12.4"/><circle cx="397.5" cy="1050.6" r="12.4"/><circle cx="396.4" cy="1033.6" r="12.4"/><circle cx="407.1" cy="1032.2" r="12.4"/><circle cx="423.7" cy="1041.9" r="12.4"/><circle cx="436.6" cy="1032.8" r="12.4"/><circle cx="489.7" cy="997.3" r="12.4"/><circle cx="491.5" cy="1013.0" r="12.4"/><circle cx="499.0" cy="1000.0" r="12.4"/><circle cx="500.0" cy="1010.0" r="12.4"/><circle cx="559.9" cy="959.0" r="12.4"/><circle cx="568.3" cy="966.2" r="12.4"/><circle cx="561.0" cy="970.9" r="12.4"/></g>
<g fill="#ff0000"><circle cx="279.0" cy="1108.0" r="12.4"/><circle cx="278.0" cy="1132.0" r="12.4"/><circle cx="305.0" cy="1131.0" r="12.4"/><circle cx="316.0" cy="1117.0" r="12.4"/><circle cx="330.0" cy="1126.0" r="12.4"/><circle cx="341.0" cy="1118.0" r="12.4"/><circle cx="352.0" cy="1110.0" r="12.4"/><circle cx="391.5" cy="1111.0" r="12.4"/><circle cx="353.9" cy="1064.0" r="12.4"/><circle cx="365.8" cy="1070.5" r="12.4"/><circle cx="431.9" cy="1013.9" r="12.4"/><circle cx="427.0" cy="1024.0" r="12.4"/><circle cx="425.9" cy="1033.9" r="12.4"/><circle cx="458.2" cy="1023.0" r="12.4"/><circle cx="514.7" cy="994.2" r="12.4"/><circle cx="532.6" cy="994.7" r="12.4"/><circle cx="521.2" cy="1012.6" r="12.4"/><circle cx="534.8" cy="1012.0" r="12.4"/></g>
<g fill="none" stroke="#0000ff" stroke-width="3.0"><rect x="185.0" y="1233.4" width="17.0" height="17.0"/><rect x="215.9" y="1232.1" width="17.0" height="17.0"/><rect x="218.0" y="1233.5" width="17.0" height="17.0"/><rect x="220.0" y="1235.0" width="17.0" height="17.0"/><rect x="298.9" y="1195.5" width="17.0" height="17.0"/><rect x="315.1" y="1200.1" width="17.0" height="17.0"/><rect x="290.6" y="1207.1" width="17.0" height="17.0"/><rect x="340.5" y="1206.7" width="17.0" height="17.0"/><rect x="350.0" y="1136.1" width="17.0" height="17.0"/><rect x="354.5" y="1130.5" width="17.0" height="17.0"/><rect x="370.5" y="1132.5" width="17.0" height="17.0"/><rect x="386.5" y="1130.5" width="17.0" height="17.0"/><rect x="492.5" y="1089.0" width="17.0" height="17.0"/><rect x="506.5" y="1092.5" width="17.0" height="17.0"/><rect x="535.5" y="1072.0" width="17.0" height="17.0"/><rect x="543.5" y="1072.5" width="17.0" height="17.0"/><rect x="547.5" y="1075.5" width="17.0" height="17.0"/><rect x="554.0" y="1077.0" width="17.0" height="17.0"/></g>
<g fill="none" stroke="#ff0000" stroke-width="3.0"><rect x="249.9" y="1225.1" width="17.0" height="17.0"/><rect x="270.1" y="1223.7" width="17.0" height="17.0"/><rect x="272.7" y="1219.8" width="17.0" height="17.0"/><rect x="311.6" y="1172.1" width="17.0" height="17.0"/><rect x="331.7" y="1170.4" width="17.0" height="17.0"/><rect x="335.2" y="1170.4" width="17.0" height="17.0"/><rect x="360.5" y="1170.5" width="17.0" height="17.0"/><rect x="313.8" y="1241.7" width="17.0" height="17.0"/><rect x="297.5" y="1199.0" width="17.0" height="17.0"/><rect x="300.5" y="1205.5" width="17.0" height="17.0"/><rect x="317.5" y="1204.5" width="17.0" height="17.0"/><rect x="370.0" y="1143.5" width="17.0" height="17.0"/><rect x="386.2" y="1140.0" width="17.0" height="17.0"/><rect x="406.3" y="1137.4" width="17.0" height="17.0"/><rect x="423.4" y="1141.7" width="17.0" height="17.0"/><rect x="440.9" y="1140.9" width="17.0" height="17.0"/><rect x="417.7" y="1157.9" width="17.0" height="17.0"/><rect x="490.1" y="1071.7" width="17.0" height="17.0"/><rect x="449.8" y="1096.5" width="17.0" height="17.0"/><rect x="510.3" y="1090.4" width="17.0" height="17.0"/><rect x="511.7" y="1116.2" width="17.0" height="17.0"/><rect x="467.1" y="1087.1" width="17.0" height="17.0"/><rect x="478.4" y="1087.1" width="17.0" height="17.0"/><rect x="467.1" y="1098.4" width="17.0" height="17.0"/><rect x="478.4" y="1098.4" width="17.0" height="17.0"/><rect x="489.6" y="1098.4" width="17.0" height="17.0"/><rect x="462.4" y="1111.5" width="17.0" height="17.0"/><rect x="473.7" y="1111.5" width="17.0" height="17.0"/><rect x="486.8" y="1111.5" width="17.0" height="17.0"/><rect x="469.0" y="1119.0" width="17.0" height="17.0"/><rect x="463.5" y="1084.5" width="17.0" height="17.0"/><rect x="463.5" y="1092.0" width="17.0" height="17.0"/><rect x="463.5" y="1099.5" width="17.0" height="17.0"/><rect x="463.5" y="1107.0" width="17.0" height="17.0"/><rect x="463.5" y="1114.5" width="17.0" height="17.0"/><rect x="469.1" y="1084.5" width="17.0" height="17.0"/><rect x="469.1" y="1092.0" width="17.0" height="17.0"/><rect x="469.1" y="1099.5" width="17.0" height="17.0"/><rect x="469.1" y="1107.0" width="17.0" height="17.0"/><rect x="469.1" y="1114.5" width="17.0" height="17.0"/><rect x="474.7" y="1084.5" width="17.0" height="17.0"/><rect x="474.7" y="1092.0" width="17.0" height="17.0"/><rect x="474.7" y="1099.5" width="17.0" height="17.0"/><rect x="474.7" y="1107.0" width="17.0" height="17.0"/><rect x="474.7" y="1114.5" width="17.0" height="17.0"/><rect x="480.3" y="1084.5" width="17.0" height="17.0"/><rect x="480.3" y="1092.0" width="17.0" height="17.0"/><rect x="480.3" y="1099.5" width="17.0" height="17.0"/><rect x="480.3" y="1107.0" width="17.0" height="17.0"/><rect x="480.3" y="1114.5" width="17.0" height="17.0"/><rect x="485.9" y="1084.5" width="17.0" height="17.0"/><rect x="485.9" y="1092.0" width="17.0" height="17.0"/><rect x="485.9" y="1099.5" width="17.0" height="17.0"/><rect x="485.9" y="1107.0" width="17.0" height="17.0"/><rect x="485.9" y="1114.5" width="17.0" height="17.0"/><rect x="491.5" y="1084.5" width="17.0" height="17.0"/><rect x="491.5" y="1092.0" width="17.0" height="17.0"/><rect x="491.5" y="1099.5" width="17.0" height="17.0"/><rect x="491.5" y="1107.0" width="17.0" height="17.0"/><rect x="491.5" y="1114.5" width="17.0" height="17.0"/></g>
<line x1="146.0" y1="1129.3" x2="734.0" y2="1129.3" stroke="#3a3ad8" stroke-width="2.4" stroke-dasharray="13 5.3 2.6 5.4" stroke-dashoffset="-0.8"/>
<line x1="440.0" y1="857.4" x2="440.0" y2="1401.3" stroke="#3a3ad8" stroke-width="2.4" stroke-dasharray="13 5.3 2.6 5.4" stroke-dashoffset="23.6"/>
<path d="M146.0 1401.3h8.5M734.0 1401.3h-8.5M146.0 1310.6h8.5M734.0 1310.6h-8.5M146.0 1220.0h8.5M734.0 1220.0h-8.5M146.0 1129.3h8.5M734.0 1129.3h-8.5M146.0 1038.7h8.5M734.0 1038.7h-8.5M146.0 948.0h8.5M734.0 948.0h-8.5M146.0 857.4h8.5M734.0 857.4h-8.5M146.0 1378.6h5.0M734.0 1378.6h-5.0M146.0 1356.0h5.0M734.0 1356.0h-5.0M146.0 1333.3h5.0M734.0 1333.3h-5.0M146.0 1288.0h5.0M734.0 1288.0h-5.0M146.0 1265.3h5.0M734.0 1265.3h-5.0M146.0 1242.7h5.0M734.0 1242.7h-5.0M146.0 1197.3h5.0M734.0 1197.3h-5.0M146.0 1174.7h5.0M734.0 1174.7h-5.0M146.0 1152.0h5.0M734.0 1152.0h-5.0M146.0 1106.7h5.0M734.0 1106.7h-5.0M146.0 1084.0h5.0M734.0 1084.0h-5.0M146.0 1061.4h5.0M734.0 1061.4h-5.0M146.0 1016.0h5.0M734.0 1016.0h-5.0M146.0 993.4h5.0M734.0 993.4h-5.0M146.0 970.7h5.0M734.0 970.7h-5.0M146.0 925.4h5.0M734.0 925.4h-5.0M146.0 902.7h5.0M734.0 902.7h-5.0M146.0 880.1h5.0M734.0 880.1h-5.0M146.0 1401.3v-8.5M146.0 857.4v8.5M440.0 1401.3v-8.5M440.0 857.4v8.5M734.0 1401.3v-8.5M734.0 857.4v8.5M234.5 1401.3v-5.0M234.5 857.4v5.0M286.3 1401.3v-5.0M286.3 857.4v5.0M323.0 1401.3v-5.0M323.0 857.4v5.0M351.5 1401.3v-5.0M351.5 857.4v5.0M374.8 1401.3v-5.0M374.8 857.4v5.0M394.5 1401.3v-5.0M394.5 857.4v5.0M411.5 1401.3v-5.0M411.5 857.4v5.0M426.5 1401.3v-5.0M426.5 857.4v5.0M528.5 1401.3v-5.0M528.5 857.4v5.0M580.3 1401.3v-5.0M580.3 857.4v5.0M617.0 1401.3v-5.0M617.0 857.4v5.0M645.5 1401.3v-5.0M645.5 857.4v5.0M668.8 1401.3v-5.0M668.8 857.4v5.0M688.5 1401.3v-5.0M688.5 857.4v5.0M705.5 1401.3v-5.0M705.5 857.4v5.0M720.5 1401.3v-5.0M720.5 857.4v5.0" stroke="#262626" stroke-width="3" fill="none"/>
<rect x="146.0" y="857.4" width="588.0" height="543.9" fill="none" stroke="#262626" stroke-width="4"/>
<text x="132.72" y="1414.30" text-anchor="end" style="font-family:'Liberation Sans',sans-serif;font-weight:bold;font-size:37px">0</text>
<text x="132.72" y="1323.65" text-anchor="end" style="font-family:'Liberation Sans',sans-serif;font-weight:bold;font-size:37px">20</text>
<text x="132.72" y="1233.00" text-anchor="end" style="font-family:'Liberation Sans',sans-serif;font-weight:bold;font-size:37px">40</text>
<text x="132.72" y="1142.35" text-anchor="end" style="font-family:'Liberation Sans',sans-serif;font-weight:bold;font-size:37px">60</text>
<text x="132.72" y="1051.70" text-anchor="end" style="font-family:'Liberation Sans',sans-serif;font-weight:bold;font-size:37px">80</text>
<text x="132.72" y="961.05" text-anchor="end" style="font-family:'Liberation Sans',sans-serif;font-weight:bold;font-size:37px">100</text>
<text x="132.72" y="870.40" text-anchor="end" style="font-family:'Liberation Sans',sans-serif;font-weight:bold;font-size:37px">120</text>
<text x="110.97" y="1464.20" style="font-family:'Liberation Sans',sans-serif;font-weight:bold;font-size:37px">10</text>
<text x="153.44" y="1447.40" style="font-family:'Liberation Sans',sans-serif;font-weight:bold;font-size:30px">-</text>
<text x="162.32" y="1445.60" style="font-family:'Liberation Sans',sans-serif;font-weight:bold;font-size:30px">1</text>
<text x="410.07" y="1464.20" style="font-family:'Liberation Sans',sans-serif;font-weight:bold;font-size:37px">10</text>
<text x="452.92" y="1445.60" style="font-family:'Liberation Sans',sans-serif;font-weight:bold;font-size:30px">0</text>
<text x="703.37" y="1464.20" style="font-family:'Liberation Sans',sans-serif;font-weight:bold;font-size:37px">10</text>
<text x="745.92" y="1445.60" style="font-family:'Liberation Sans',sans-serif;font-weight:bold;font-size:30px">1</text>
<text transform="translate(316.19,1514.60) scale(1.1216,1.0000)" style="font-family:'Liberation Serif',serif;font-style:italic;font-size:40px" fill="#000">ν</text>
<text transform="translate(340.08,1504.56) scale(1.0360,0.9252)" style="font-family:'Liberation Serif',serif;font-size:28px" fill="#000">*</text>
<text transform="translate(336.96,1523.84) scale(1.0866,0.9568)" style="font-family:'Liberation Serif',serif;font-style:italic;font-size:28px" fill="#000">ei</text>
<text transform="translate(378.44,1514.73) scale(1.0026,1.1828)" style="font-family:'Liberation Serif',serif;font-size:40px" fill="#000">(</text>
<text transform="translate(395.03,1514.60) scale(1.0156,1.0000)" style="font-family:'Liberation Serif',serif;font-style:italic;font-size:40px" fill="#000">ρ</text>
<text transform="translate(428.66,1514.60) scale(1.4237,1.0000)" style="font-family:'Liberation Serif',serif;font-size:40px" fill="#000">=</text>
<text transform="translate(471.35,1514.60) scale(1.2240,1.0000)" style="font-family:'Liberation Serif',serif;font-size:40px" fill="#000">2/3</text>
<text transform="translate(535.90,1514.73) scale(0.9344,1.1828)" style="font-family:'Liberation Serif',serif;font-size:40px" fill="#000">)</text>
<g fill="#0000ff"><circle cx="1123.0" cy="1062.0" r="12.4"/><circle cx="1137.0" cy="1057.0" r="12.4"/><circle cx="1151.0" cy="1051.0" r="12.4"/><circle cx="1160.0" cy="1051.0" r="12.4"/><circle cx="1235.0" cy="1027.0" r="12.4"/><circle cx="1251.0" cy="1027.0" r="12.4"/><circle cx="1222.7" cy="1045.0" r="12.4"/><circle cx="1241.0" cy="1046.0" r="12.4"/><circle cx="1245.0" cy="1037.0" r="12.4"/><circle cx="1275.0" cy="1031.8" r="12.4"/><circle cx="1328.0" cy="1024.5" r="12.4"/><circle cx="1338.0" cy="1035.0" r="12.4"/><circle cx="1345.8" cy="1046.3" r="12.4"/><circle cx="1330.7" cy="1050.4" r="12.4"/><circle cx="1398.0" cy="1040.0" r="12.4"/><circle cx="1405.6" cy="1048.3" r="12.4"/></g>
<g fill="#ff0000"><circle cx="1117.5" cy="1049.0" r="12.4"/><circle cx="1116.0" cy="1089.0" r="12.4"/><circle cx="1144.0" cy="1088.0" r="12.4"/><circle cx="1157.0" cy="1073.0" r="12.4"/><circle cx="1170.0" cy="1078.0" r="12.4"/><circle cx="1178.0" cy="1082.0" r="12.4"/><circle cx="1191.0" cy="1096.0" r="12.4"/><circle cx="1192.0" cy="1047.0" r="12.4"/><circle cx="1203.0" cy="1052.0" r="12.4"/><circle cx="1198.0" cy="1060.0" r="12.4"/><circle cx="1268.0" cy="1037.0" r="12.4"/><circle cx="1266.0" cy="1047.0" r="12.4"/><circle cx="1264.0" cy="1057.0" r="12.4"/><circle cx="1296.3" cy="1042.0" r="12.4"/><circle cx="1229.5" cy="1089.0" r="12.4"/></g>
<g fill="none" stroke="#0000ff" stroke-width="3.0"><rect x="1189.5" y="1061.5" width="17.0" height="17.0"/><rect x="1201.5" y="1057.5" width="17.0" height="17.0"/><rect x="1210.5" y="1064.5" width="17.0" height="17.0"/><rect x="1223.5" y="1057.5" width="17.0" height="17.0"/><rect x="1228.5" y="1064.5" width="17.0" height="17.0"/><rect x="1374.2" y="1069.8" width="17.0" height="17.0"/><rect x="1381.7" y="1069.8" width="17.0" height="17.0"/><rect x="1374.2" y="1081.4" width="17.0" height="17.0"/><rect x="1391.9" y="1081.4" width="17.0" height="17.0"/><rect x="1023.5" y="1157.4" width="17.0" height="17.0"/><rect x="1053.8" y="1155.6" width="17.0" height="17.0"/><rect x="1055.0" y="1157.0" width="17.0" height="17.0"/><rect x="1057.9" y="1169.3" width="17.0" height="17.0"/><rect x="1130.4" y="1153.9" width="17.0" height="17.0"/><rect x="1177.9" y="1153.9" width="17.0" height="17.0"/><rect x="1154.7" y="1137.2" width="17.0" height="17.0"/><rect x="1135.7" y="1134.3" width="17.0" height="17.0"/></g>
<g fill="none" stroke="#ff0000" stroke-width="3.0"><rect x="1347.7" y="1081.2" width="17.0" height="17.0"/><rect x="1287.4" y="1091.2" width="17.0" height="17.0"/><rect x="1277.5" y="1110.9" width="17.0" height="17.0"/><rect x="1278.2" y="1121.9" width="17.0" height="17.0"/><rect x="1262.9" y="1121.0" width="17.0" height="17.0"/><rect x="1308.4" y="1119.7" width="17.0" height="17.0"/><rect x="1349.5" y="1119.2" width="17.0" height="17.0"/><rect x="1304.9" y="1075.9" width="17.0" height="17.0"/><rect x="1327.5" y="1075.9" width="17.0" height="17.0"/><rect x="1314.5" y="1081.5" width="17.0" height="17.0"/><rect x="1332.5" y="1084.2" width="17.0" height="17.0"/><rect x="1304.9" y="1085.5" width="17.0" height="17.0"/><rect x="1300.5" y="1100.9" width="17.0" height="17.0"/><rect x="1312.7" y="1102.6" width="17.0" height="17.0"/><rect x="1325.9" y="1101.7" width="17.0" height="17.0"/><rect x="1312.7" y="1110.5" width="17.0" height="17.0"/><rect x="1321.5" y="1110.5" width="17.0" height="17.0"/><rect x="1307.5" y="1094.5" width="17.0" height="17.0"/><rect x="1321.5" y="1091.5" width="17.0" height="17.0"/><rect x="1088.8" y="1159.2" width="17.0" height="17.0"/><rect x="1106.0" y="1158.6" width="17.0" height="17.0"/><rect x="1110.8" y="1147.3" width="17.0" height="17.0"/><rect x="1150.0" y="1114.7" width="17.0" height="17.0"/><rect x="1170.0" y="1110.0" width="17.0" height="17.0"/><rect x="1173.0" y="1108.5" width="17.0" height="17.0"/><rect x="1136.9" y="1129.5" width="17.0" height="17.0"/><rect x="1138.1" y="1141.4" width="17.0" height="17.0"/><rect x="1155.9" y="1136.5" width="17.0" height="17.0"/><rect x="1151.7" y="1193.6" width="17.0" height="17.0"/><rect x="1202.5" y="1114.0" width="17.0" height="17.0"/><rect x="1209.5" y="1118.0" width="17.0" height="17.0"/><rect x="1222.8" y="1110.5" width="17.0" height="17.0"/><rect x="1244.1" y="1104.0" width="17.0" height="17.0"/><rect x="1244.1" y="1108.0" width="17.0" height="17.0"/><rect x="1244.1" y="1112.0" width="17.0" height="17.0"/><rect x="1265.4" y="1120.2" width="17.0" height="17.0"/><rect x="1278.2" y="1112.0" width="17.0" height="17.0"/><rect x="1278.2" y="1119.8" width="17.0" height="17.0"/><rect x="1255.4" y="1136.3" width="17.0" height="17.0"/><rect x="1303.5" y="1075.5" width="17.0" height="17.0"/><rect x="1303.5" y="1081.0" width="17.0" height="17.0"/><rect x="1303.5" y="1086.5" width="17.0" height="17.0"/><rect x="1308.9" y="1075.5" width="17.0" height="17.0"/><rect x="1308.9" y="1081.0" width="17.0" height="17.0"/><rect x="1308.9" y="1086.5" width="17.0" height="17.0"/><rect x="1314.3" y="1075.5" width="17.0" height="17.0"/><rect x="1314.3" y="1081.0" width="17.0" height="17.0"/><rect x="1314.3" y="1086.5" width="17.0" height="17.0"/><rect x="1319.7" y="1075.5" width="17.0" height="17.0"/><rect x="1319.7" y="1081.0" width="17.0" height="17.0"/><rect x="1319.7" y="1086.5" width="17.0" height="17.0"/><rect x="1325.1" y="1075.5" width="17.0" height="17.0"/><rect x="1325.1" y="1081.0" width="17.0" height="17.0"/><rect x="1325.1" y="1086.5" width="17.0" height="17.0"/><rect x="1330.5" y="1075.5" width="17.0" height="17.0"/><rect x="1330.5" y="1081.0" width="17.0" height="17.0"/><rect x="1330.5" y="1086.5" width="17.0" height="17.0"/><rect x="1300.5" y="1099.5" width="17.0" height="17.0"/><rect x="1300.5" y="1105.5" width="17.0" height="17.0"/><rect x="1300.5" y="1111.5" width="17.0" height="17.0"/><rect x="1306.5" y="1099.5" width="17.0" height="17.0"/><rect x="1306.5" y="1105.5" width="17.0" height="17.0"/><rect x="1306.5" y="1111.5" width="17.0" height="17.0"/><rect x="1312.5" y="1099.5" width="17.0" height="17.0"/><rect x="1312.5" y="1105.5" width="17.0" height="17.0"/><rect x="1312.5" y="1111.5" width="17.0" height="17.0"/><rect x="1318.5" y="1099.5" width="17.0" height="17.0"/><rect x="1318.5" y="1105.5" width="17.0" height="17.0"/><rect x="1318.5" y="1111.5" width="17.0" height="17.0"/><rect x="1324.5" y="1099.5" width="17.0" height="17.0"/><rect x="1324.5" y="1105.5" width="17.0" height="17.0"/><rect x="1324.5" y="1111.5" width="17.0" height="17.0"/></g>
<line x1="985.4" y1="1129.5" x2="1570.0" y2="1129.5" stroke="#3a3ad8" stroke-width="2.4" stroke-dasharray="13 5.3 2.6 5.4" stroke-dashoffset="-0.8"/>
<line x1="1277.7" y1="857.4" x2="1277.7" y2="1401.6" stroke="#3a3ad8" stroke-width="2.4" stroke-dasharray="13 5.3 2.6 5.4" stroke-dashoffset="23.6"/>
<path d="M985.4 1401.6h8.5M1570.0 1401.6h-8.5M985.4 1265.5h8.5M1570.0 1265.5h-8.5M985.4 1129.5h8.5M1570.0 1129.5h-8.5M985.4 993.4h8.5M1570.0 993.4h-8.5M985.4 857.4h8.5M1570.0 857.4h-8.5M985.4 1367.6h5.0M1570.0 1367.6h-5.0M985.4 1333.6h5.0M1570.0 1333.6h-5.0M985.4 1299.6h5.0M1570.0 1299.6h-5.0M985.4 1231.5h5.0M1570.0 1231.5h-5.0M985.4 1197.5h5.0M1570.0 1197.5h-5.0M985.4 1163.5h5.0M1570.0 1163.5h-5.0M985.4 1095.5h5.0M1570.0 1095.5h-5.0M985.4 1061.5h5.0M1570.0 1061.5h-5.0M985.4 1027.5h5.0M1570.0 1027.5h-5.0M985.4 959.4h5.0M1570.0 959.4h-5.0M985.4 925.4h5.0M1570.0 925.4h-5.0M985.4 891.4h5.0M1570.0 891.4h-5.0M985.4 1401.6v-8.5M985.4 857.4v8.5M1277.7 1401.6v-8.5M1277.7 857.4v8.5M1570.0 1401.6v-8.5M1570.0 857.4v8.5M1073.4 1401.6v-5.0M1073.4 857.4v5.0M1124.9 1401.6v-5.0M1124.9 857.4v5.0M1161.4 1401.6v-5.0M1161.4 857.4v5.0M1189.7 1401.6v-5.0M1189.7 857.4v5.0M1212.9 1401.6v-5.0M1212.9 857.4v5.0M1232.4 1401.6v-5.0M1232.4 857.4v5.0M1249.4 1401.6v-5.0M1249.4 857.4v5.0M1264.3 1401.6v-5.0M1264.3 857.4v5.0M1365.7 1401.6v-5.0M1365.7 857.4v5.0M1417.2 1401.6v-5.0M1417.2 857.4v5.0M1453.7 1401.6v-5.0M1453.7 857.4v5.0M1482.0 1401.6v-5.0M1482.0 857.4v5.0M1505.2 1401.6v-5.0M1505.2 857.4v5.0M1524.7 1401.6v-5.0M1524.7 857.4v5.0M1541.7 1401.6v-5.0M1541.7 857.4v5.0M1556.6 1401.6v-5.0M1556.6 857.4v5.0" stroke="#262626" stroke-width="3" fill="none"/>
<rect x="985.4" y="857.4" width="584.6" height="544.2" fill="none" stroke="#262626" stroke-width="4"/>
<text x="968.00" y="1414.60" text-anchor="end" style="font-family:'Liberation Sans',sans-serif;font-weight:bold;font-size:37px">0.2</text>
<text x="968.00" y="1278.55" text-anchor="end" style="font-family:'Liberation Sans',sans-serif;font-weight:bold;font-size:37px">0.4</text>
<text x="968.00" y="1142.50" text-anchor="end" style="font-family:'Liberation Sans',sans-serif;font-weight:bold;font-size:37px">0.6</text>
<text x="968.00" y="1006.45" text-anchor="end" style="font-family:'Liberation Sans',sans-serif;font-weight:bold;font-size:37px">0.8</text>
<text x="971.70" y="870.40" text-anchor="end" style="font-family:'Liberation Sans',sans-serif;font-weight:bold;font-size:37px">1</text>
<text x="950.37" y="1464.50" style="font-family:'Liberation Sans',sans-serif;font-weight:bold;font-size:37px">10</text>
<text x="992.84" y="1447.70" style="font-family:'Liberation Sans',sans-serif;font-weight:bold;font-size:30px">-</text>
<text x="1001.72" y="1445.90" style="font-family:'Liberation Sans',sans-serif;font-weight:bold;font-size:30px">1</text>
<text x="1247.77" y="1464.50" style="font-family:'Liberation Sans',sans-serif;font-weight:bold;font-size:37px">10</text>
<text x="1290.62" y="1445.90" style="font-family:'Liberation Sans',sans-serif;font-weight:bold;font-size:30px">0</text>
<text x="1539.37" y="1464.50" style="font-family:'Liberation Sans',sans-serif;font-weight:bold;font-size:37px">10</text>
<text x="1581.92" y="1445.90" style="font-family:'Liberation Sans',sans-serif;font-weight:bold;font-size:30px">1</text>
<text transform="translate(1153.89,1514.90) scale(1.1216,1.0000)" style="font-family:'Liberation Serif',serif;font-style:italic;font-size:40px" fill="#000">ν</text>
<text transform="translate(1177.78,1504.86) scale(1.0360,0.9252)" style="font-family:'Liberation Serif',serif;font-size:28px" fill="#000">*</text>
<text transform="translate(1174.66,1524.14) scale(1.0866,0.9568)" style="font-family:'Liberation Serif',serif;font-style:italic;font-size:28px" fill="#000">ei</text>
<text transform="translate(1216.14,1515.03) scale(1.0026,1.1828)" style="font-family:'Liberation Serif',serif;font-size:40px" fill="#000">(</text>
<text transform="translate(1232.73,1514.90) scale(1.0156,1.0000)" style="font-family:'Liberation Serif',serif;font-style:italic;font-size:40px" fill="#000">ρ</text>
<text transform="translate(1266.36,1514.90) scale(1.4237,1.0000)" style="font-family:'Liberation Serif',serif;font-size:40px" fill="#000">=</text>
<text transform="translate(1309.05,1514.90) scale(1.2240,1.0000)" style="font-family:'Liberation Serif',serif;font-size:40px" fill="#000">2/3</text>
<text transform="translate(1373.60,1515.03) scale(0.9344,1.1828)" style="font-family:'Liberation Serif',serif;font-size:40px" fill="#000">)</text>
<circle cx="157" cy="25.5" r="12" fill="#0000ff"/>
<rect x="149.4" y="71.2" width="17" height="17" fill="none" stroke="#0000ff" stroke-width="3"/>
<circle cx="819.7" cy="25.7" r="12" fill="#ff0000"/>
<rect x="810.9" y="71.2" width="17" height="17" fill="none" stroke="#ff0000" stroke-width="3"/>
<text transform="translate(207.70,36.10) scale(1.3178,1.0218)" style="font-family:'Liberation Serif',serif;font-style:italic;font-size:42px" fill="#000">P</text>
<text transform="translate(234.78,42.50) scale(1.2031,1.0215)" style="font-family:'Liberation Serif',serif;font-style:italic;font-size:32px" fill="#000">NBI</text>
<text transform="translate(314.49,38.14) scale(1.1582,1.2342)" style="font-family:'DejaVu Sans',sans-serif;font-size:40px" fill="#000" stroke="#fff" stroke-width="1.5">≅</text>
<text transform="translate(364.04,35.90) scale(1.0472,1.0092)" style="font-family:'Liberation Serif',serif;font-size:42px" fill="#000">4.5</text>
<text transform="translate(429.89,43.63) scale(1.3917,1.2430)" style="font-family:'Liberation Serif',serif;font-size:42px" fill="#000">−</text>
<text transform="translate(471.53,36.08) scale(1.0906,1.0492)" style="font-family:'Liberation Serif',serif;font-size:42px" fill="#000">6.5</text>
<text transform="translate(529.45,37.29) scale(1.1124,1.1422)" style="font-family:'Liberation Serif',serif;font-size:42px" fill="#000">(</text>
<text transform="translate(549.11,35.47) scale(1.2357,0.9987)" style="font-family:'Liberation Serif',serif;font-style:italic;font-size:42px" fill="#000">MW</text>
<text transform="translate(643.30,37.29) scale(0.8900,1.1422)" style="font-family:'Liberation Serif',serif;font-size:42px" fill="#000">)</text>
<text transform="translate(674.42,37.29) scale(1.0712,1.1422)" style="font-family:'Liberation Serif',serif;font-size:42px" fill="#000">(H)</text>
<text transform="translate(207.70,88.50) scale(1.3178,1.0218)" style="font-family:'Liberation Serif',serif;font-style:italic;font-size:42px" fill="#000">P</text>
<text transform="translate(234.78,94.90) scale(1.2031,1.0215)" style="font-family:'Liberation Serif',serif;font-style:italic;font-size:32px" fill="#000">NBI</text>
<text transform="translate(314.49,90.54) scale(1.1582,1.2342)" style="font-family:'DejaVu Sans',sans-serif;font-size:40px" fill="#000" stroke="#fff" stroke-width="1.5">≅</text>
<text transform="translate(361.89,88.31) scale(1.0887,0.9991)" style="font-family:'Liberation Serif',serif;font-size:42px" fill="#000">7.0</text>
<text transform="translate(429.89,96.03) scale(1.3917,1.2430)" style="font-family:'Liberation Serif',serif;font-size:42px" fill="#000">−</text>
<text transform="translate(470.91,88.60) scale(1.1084,1.0166)" style="font-family:'Liberation Serif',serif;font-size:42px" fill="#000">10.0</text>
<text transform="translate(552.52,89.66) scale(1.0754,1.1449)" style="font-family:'Liberation Serif',serif;font-size:42px" fill="#000">(</text>
<text transform="translate(570.61,87.87) scale(1.2357,0.9951)" style="font-family:'Liberation Serif',serif;font-style:italic;font-size:42px" fill="#000">MW</text>
<text transform="translate(664.70,89.66) scale(0.8900,1.1449)" style="font-family:'Liberation Serif',serif;font-size:42px" fill="#000">)</text>
<text transform="translate(695.94,89.66) scale(1.0639,1.1449)" style="font-family:'Liberation Serif',serif;font-size:42px" fill="#000">(H)</text>
<text transform="translate(870.40,36.10) scale(1.3178,1.0218)" style="font-family:'Liberation Serif',serif;font-style:italic;font-size:42px" fill="#000">P</text>
<text transform="translate(897.48,42.50) scale(1.2031,1.0215)" style="font-family:'Liberation Serif',serif;font-style:italic;font-size:32px" fill="#000">NBI</text>
<text transform="translate(977.19,38.14) scale(1.1582,1.2342)" style="font-family:'DejaVu Sans',sans-serif;font-size:40px" fill="#000" stroke="#fff" stroke-width="1.5">≅</text>
<text transform="translate(1026.74,35.90) scale(1.0472,1.0092)" style="font-family:'Liberation Serif',serif;font-size:42px" fill="#000">4.5</text>
<text transform="translate(1092.59,43.63) scale(1.3917,1.2430)" style="font-family:'Liberation Serif',serif;font-size:42px" fill="#000">−</text>
<text transform="translate(1134.23,36.08) scale(1.0906,1.0492)" style="font-family:'Liberation Serif',serif;font-size:42px" fill="#000">6.5</text>
<text transform="translate(1192.15,37.29) scale(1.1124,1.1422)" style="font-family:'Liberation Serif',serif;font-size:42px" fill="#000">(</text>
<text transform="translate(1211.81,35.47) scale(1.2357,0.9987)" style="font-family:'Liberation Serif',serif;font-style:italic;font-size:42px" fill="#000">MW</text>
<text transform="translate(1306.00,37.29) scale(0.8900,1.1422)" style="font-family:'Liberation Serif',serif;font-size:42px" fill="#000">)</text>
<text transform="translate(1337.12,37.29) scale(1.0712,1.1422)" style="font-family:'Liberation Serif',serif;font-size:42px" fill="#000">(D)</text>
<text transform="translate(870.40,88.50) scale(1.3178,1.0218)" style="font-family:'Liberation Serif',serif;font-style:italic;font-size:42px" fill="#000">P</text>
<text transform="translate(897.48,94.90) scale(1.2031,1.0215)" style="font-family:'Liberation Serif',serif;font-style:italic;font-size:32px" fill="#000">NBI</text>
<text transform="translate(977.19,90.54) scale(1.1582,1.2342)" style="font-family:'DejaVu Sans',sans-serif;font-size:40px" fill="#000" stroke="#fff" stroke-width="1.5">≅</text>
<text transform="translate(1024.59,88.31) scale(1.0887,0.9991)" style="font-family:'Liberation Serif',serif;font-size:42px" fill="#000">7.0</text>
<text transform="translate(1092.59,96.03) scale(1.3917,1.2430)" style="font-family:'Liberation Serif',serif;font-size:42px" fill="#000">−</text>
<text transform="translate(1133.61,88.60) scale(1.1084,1.0166)" style="font-family:'Liberation Serif',serif;font-size:42px" fill="#000">10.0</text>
<text transform="translate(1215.22,89.66) scale(1.0754,1.1449)" style="font-family:'Liberation Serif',serif;font-size:42px" fill="#000">(</text>
<text transform="translate(1233.31,87.87) scale(1.2357,0.9951)" style="font-family:'Liberation Serif',serif;font-style:italic;font-size:42px" fill="#000">MW</text>
<text transform="translate(1327.40,89.66) scale(0.8900,1.1449)" style="font-family:'Liberation Serif',serif;font-size:42px" fill="#000">)</text>
<text transform="translate(1358.64,89.66) scale(1.0639,1.1449)" style="font-family:'Liberation Serif',serif;font-size:42px" fill="#000">(D)</text>
<text transform="translate(184.91,202.63) scale(0.9981,1.0045)" style="font-family:'Liberation Sans',sans-serif;font-weight:bold;font-size:44px" fill="#000">(a)</text>
<text transform="translate(1032.84,197.83) scale(0.9846,1.0045)" style="font-family:'Liberation Sans',sans-serif;font-weight:bold;font-size:44px" fill="#000">(b)</text>
<text transform="translate(195.01,909.16) scale(0.9981,1.0119)" style="font-family:'Liberation Sans',sans-serif;font-weight:bold;font-size:44px" fill="#000">(c)</text>
<text transform="translate(1037.85,917.56) scale(0.9807,1.0119)" style="font-family:'Liberation Sans',sans-serif;font-weight:bold;font-size:44px" fill="#000">(d)</text>
<text transform="translate(32.03,507.56) rotate(-90) scale(1.5497,0.9440)" style="font-family:'Liberation Serif',serif;font-style:italic;font-size:40px" fill="#000">τ</text>
<text transform="translate(50.95,487.08) rotate(-90) scale(1.0298,0.9986)" style="font-family:'Liberation Sans',sans-serif;font-weight:bold;font-style:italic;font-size:32px" fill="#000">E,dia</text>
<text transform="translate(32.34,391.70) rotate(-90) scale(1.0098,0.9943)" style="font-family:'Liberation Sans',sans-serif;font-weight:bold;font-style:italic;font-size:41px" fill="#000">(ms)</text>
<text transform="translate(32.03,1232.35) rotate(-90) scale(1.5360,0.9440)" style="font-family:'Liberation Serif',serif;font-style:italic;font-size:40px" fill="#000">τ</text>
<text transform="translate(51.04,1210.12) rotate(-90) scale(1.0353,0.9808)" style="font-family:'Liberation Sans',sans-serif;font-weight:bold;font-size:32px" fill="#000">E,kin</text>
<text transform="translate(32.16,1116.78) rotate(-90) scale(1.0172,1.0152)" style="font-family:'Liberation Sans',sans-serif;font-weight:bold;font-size:41px" fill="#000">(ms)</text>
<text transform="translate(880.13,519.05) rotate(-90) scale(1.5360,0.9493)" style="font-family:'Liberation Serif',serif;font-style:italic;font-size:40px" fill="#000">τ</text>
<text transform="translate(898.11,498.09) rotate(-90) scale(1.0538,0.9879)" style="font-family:'Liberation Sans',sans-serif;font-weight:bold;font-style:italic;font-size:32px" fill="#000">E,dia</text>
<text transform="translate(880.29,418.10) rotate(-90) scale(1.4217,1.0519)" style="font-family:'Liberation Sans',sans-serif;font-size:40px" fill="#000">/</text>
<text transform="translate(880.32,400.45) rotate(-90) scale(1.4268,0.9760)" style="font-family:'Liberation Serif',serif;font-style:italic;font-size:40px" fill="#000">τ</text>
<text transform="translate(900.50,379.58) rotate(-90) scale(0.8481,1.0583)" style="font-family:'Liberation Sans',sans-serif;font-weight:bold;font-style:italic;font-size:32px" fill="#000">E</text>
<text transform="translate(859.69,379.69) rotate(-90) scale(1.0469,0.9843)" style="font-family:'Liberation Sans',sans-serif;font-weight:bold;font-style:italic;font-size:32px" fill="#000">ISS04</text>
<text transform="translate(880.13,1234.85) rotate(-90) scale(1.5360,0.9493)" style="font-family:'Liberation Serif',serif;font-style:italic;font-size:40px" fill="#000">τ</text>
<text transform="translate(898.28,1215.10) rotate(-90) scale(1.0729,0.9524)" style="font-family:'Liberation Sans',sans-serif;font-weight:bold;font-style:italic;font-size:32px" fill="#000">E,kin</text>
<text transform="translate(880.29,1133.90) rotate(-90) scale(1.4217,1.0519)" style="font-family:'Liberation Sans',sans-serif;font-size:40px" fill="#000">/</text>
<text transform="translate(880.32,1117.39) rotate(-90) scale(1.4677,0.9760)" style="font-family:'Liberation Serif',serif;font-style:italic;font-size:40px" fill="#000">τ</text>
<text transform="translate(900.50,1096.47) rotate(-90) scale(0.8434,1.0583)" style="font-family:'Liberation Sans',sans-serif;font-weight:bold;font-style:italic;font-size:32px" fill="#000">E</text>
<text transform="translate(859.69,1096.60) rotate(-90) scale(1.0585,0.9843)" style="font-family:'Liberation Sans',sans-serif;font-weight:bold;font-style:italic;font-size:32px" fill="#000">ISS04</text>
<g fill="#fff"><rect x="72.52" y="399.60" width="6.96" height="5.68"/><rect x="84.85" y="399.60" width="6.49" height="5.68"/><rect x="72.52" y="316.11" width="6.96" height="5.68"/><rect x="84.85" y="316.11" width="6.49" height="5.68"/><rect x="72.52" y="232.62" width="6.96" height="5.68"/><rect x="84.85" y="232.62" width="6.49" height="5.68"/><rect x="72.52" y="149.12" width="6.96" height="5.68"/><rect x="84.85" y="149.12" width="6.49" height="5.68"/><rect x="112.50" y="741.72" width="6.96" height="5.68"/><rect x="124.83" y="741.72" width="6.49" height="5.68"/><rect x="163.41" y="723.84" width="5.76" height="4.96"/><rect x="173.59" y="723.84" width="5.38" height="4.96"/><rect x="411.60" y="741.72" width="6.96" height="5.68"/><rect x="423.93" y="741.72" width="6.49" height="5.68"/><rect x="704.90" y="741.72" width="6.96" height="5.68"/><rect x="717.23" y="741.72" width="6.49" height="5.68"/><rect x="747.01" y="723.84" width="5.76" height="4.96"/><rect x="757.19" y="723.84" width="5.38" height="4.96"/><rect x="952.65" y="420.57" width="6.96" height="5.68"/><rect x="964.98" y="420.57" width="6.49" height="5.68"/><rect x="918.09" y="284.95" width="6.96" height="5.68"/><rect x="930.43" y="284.95" width="6.49" height="5.68"/><rect x="918.09" y="149.32" width="6.96" height="5.68"/><rect x="930.43" y="149.32" width="6.49" height="5.68"/><rect x="951.90" y="741.72" width="6.96" height="5.68"/><rect x="964.23" y="741.72" width="6.49" height="5.68"/><rect x="1002.81" y="723.84" width="5.76" height="4.96"/><rect x="1012.99" y="723.84" width="5.38" height="4.96"/><rect x="1249.30" y="741.72" width="6.96" height="5.68"/><rect x="1261.63" y="741.72" width="6.49" height="5.68"/><rect x="1540.90" y="741.72" width="6.96" height="5.68"/><rect x="1553.23" y="741.72" width="6.49" height="5.68"/><rect x="1583.01" y="723.84" width="5.76" height="4.96"/><rect x="1593.19" y="723.84" width="5.38" height="4.96"/><rect x="72.52" y="956.17" width="6.96" height="5.68"/><rect x="84.85" y="956.17" width="6.49" height="5.68"/><rect x="72.52" y="865.52" width="6.96" height="5.68"/><rect x="84.85" y="865.52" width="6.49" height="5.68"/><rect x="112.50" y="1459.32" width="6.96" height="5.68"/><rect x="124.83" y="1459.32" width="6.49" height="5.68"/><rect x="163.41" y="1441.44" width="5.76" height="4.96"/><rect x="173.59" y="1441.44" width="5.38" height="4.96"/><rect x="411.60" y="1459.32" width="6.96" height="5.68"/><rect x="423.93" y="1459.32" width="6.49" height="5.68"/><rect x="704.90" y="1459.32" width="6.96" height="5.68"/><rect x="717.23" y="1459.32" width="6.49" height="5.68"/><rect x="747.01" y="1441.44" width="5.76" height="4.96"/><rect x="757.19" y="1441.44" width="5.38" height="4.96"/><rect x="952.65" y="865.52" width="6.96" height="5.68"/><rect x="964.98" y="865.52" width="6.49" height="5.68"/><rect x="951.90" y="1459.62" width="6.96" height="5.68"/><rect x="964.23" y="1459.62" width="6.49" height="5.68"/><rect x="1002.81" y="1441.74" width="5.76" height="4.96"/><rect x="1012.99" y="1441.74" width="5.38" height="4.96"/><rect x="1249.30" y="1459.62" width="6.96" height="5.68"/><rect x="1261.63" y="1459.62" width="6.49" height="5.68"/><rect x="1540.90" y="1459.62" width="6.96" height="5.68"/><rect x="1553.23" y="1459.62" width="6.49" height="5.68"/><rect x="1583.01" y="1441.74" width="5.76" height="4.96"/><rect x="1593.19" y="1441.74" width="5.38" height="4.96"/></g>
</svg></body></html>
